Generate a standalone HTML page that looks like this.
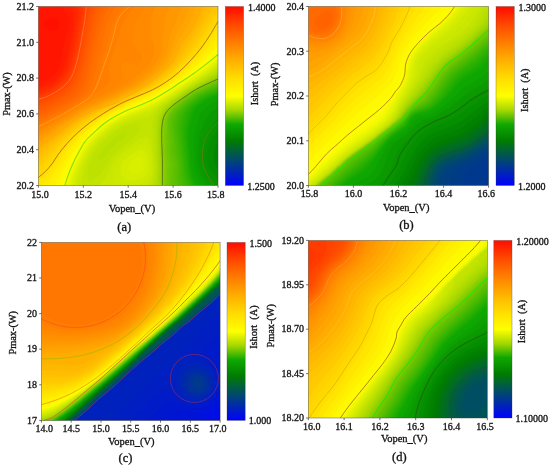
<!DOCTYPE html>
<html lang="en"><head><meta charset="utf-8"><title>Contour maps</title>
<style>html,body{margin:0;padding:0;background:#fff}svg{display:block}text{font-family:"Liberation Serif",serif;fill:#141414;stroke:#141414;stroke-width:0.32px}</style></head><body>
<svg width="550" height="468" viewBox="0 0 550 468">
<defs>
<filter id="cm" filterUnits="userSpaceOnUse" x="0" y="0" width="550" height="468" color-interpolation-filters="sRGB"><feGaussianBlur stdDeviation="1.1"/><feComponentTransfer><feFuncR type="table" tableValues="0 0 0 0 0 0 0 0 0 0 0 0 0 0 0 0 0 0 0 0 0 0 0 0 0 0 0 0 0 0 0 0 0 0 0 0 0 0 0 0 0 0 0 0 0.001 0.009 0.018 0.026 0.034 0.043 0.051 0.061 0.085 0.109 0.133 0.157 0.182 0.206 0.23 0.254 0.278 0.303 0.327 0.351 0.375 0.399 0.424 0.448 0.472 0.496 0.521 0.545 0.569 0.593 0.617 0.642 0.665 0.688 0.711 0.735 0.758 0.781 0.804 0.827 0.851 0.874 0.897 0.92 0.943 0.966 0.99 1 1 1 1 1 1 1 1 1 1 1 1 1 1 1 1 1 1 1 1 1 1 1 1 1 1 1 1 1 1 1 1 1 1 1 1 1 1"/><feFuncG type="table" tableValues="0 0.011 0.023 0.034 0.046 0.057 0.069 0.08 0.091 0.103 0.114 0.126 0.137 0.148 0.16 0.171 0.183 0.194 0.206 0.217 0.228 0.24 0.251 0.262 0.273 0.284 0.295 0.306 0.317 0.328 0.339 0.349 0.36 0.371 0.382 0.393 0.404 0.415 0.426 0.437 0.448 0.459 0.47 0.48 0.493 0.517 0.541 0.565 0.589 0.613 0.637 0.659 0.667 0.675 0.682 0.69 0.697 0.705 0.712 0.72 0.728 0.735 0.743 0.75 0.758 0.766 0.773 0.781 0.788 0.796 0.804 0.811 0.819 0.826 0.834 0.841 0.851 0.861 0.872 0.882 0.892 0.903 0.913 0.923 0.934 0.944 0.954 0.964 0.975 0.985 0.995 0.986 0.961 0.935 0.91 0.884 0.859 0.834 0.808 0.783 0.758 0.732 0.707 0.681 0.656 0.631 0.605 0.58 0.555 0.529 0.504 0.478 0.453 0.428 0.402 0.377 0.352 0.326 0.301 0.275 0.25 0.225 0.199 0.174 0.149 0.123 0.098 0.072 0.047"/><feFuncB type="table" tableValues="1 0.977 0.955 0.932 0.909 0.887 0.864 0.841 0.819 0.796 0.773 0.751 0.728 0.705 0.683 0.66 0.637 0.615 0.592 0.569 0.547 0.524 0.501 0.479 0.456 0.433 0.41 0.387 0.364 0.341 0.318 0.295 0.272 0.25 0.227 0.204 0.181 0.158 0.135 0.112 0.089 0.066 0.043 0.02 0 0 0 0 0 0 0 0 0 0 0 0 0 0 0 0 0 0 0 0 0 0 0 0 0 0 0 0 0 0 0 0 0 0 0 0 0 0 0 0 0 0 0 0 0 0 0 0 0 0 0 0 0 0 0 0 0 0 0 0 0 0 0 0 0 0 0 0 0 0 0 0 0 0 0 0 0 0 0 0 0 0 0 0 0"/><feFuncA type="linear" slope="9" intercept="0"/></feComponentTransfer></filter>
<linearGradient id="cb" x1="0" y1="0" x2="0" y2="1"><stop offset="0" stop-color="#ff0c00"/><stop offset="0.1" stop-color="#ff4800"/><stop offset="0.2" stop-color="#ff7d00"/><stop offset="0.3" stop-color="#ffaf00"/><stop offset="0.4" stop-color="#ffdc00"/><stop offset="0.5" stop-color="#ffff00"/><stop offset="0.58" stop-color="#a5d700"/><stop offset="0.66" stop-color="#0fa800"/><stop offset="0.75" stop-color="#007d00"/><stop offset="0.875" stop-color="#004080"/><stop offset="1" stop-color="#0000ff"/></linearGradient>
<clipPath id="cpa"><rect x="38.4" y="6.5" width="179.6" height="179"/></clipPath>
<clipPath id="cpb"><rect x="308.4" y="6.5" width="180.2" height="179"/></clipPath>
<clipPath id="cpc"><rect x="41.4" y="242.4" width="178.7" height="178"/></clipPath>
<clipPath id="cpd"><rect x="308.3" y="240.4" width="179" height="177.6"/></clipPath>
</defs>
<rect width="550" height="468" fill="#fff"/>
<g clip-path="url(#cpa)"><g filter="url(#cm)">
<rect x="34" y="2" width="188" height="188" fill="#5b5b5b"/>
<path fill="#5d5d5d" d="M34 2 222 2 222 141.3 218 141.3 214.4 149 213.4 156 214.4 162 218 168.8 222 168.8 222 190 34 190Z"/>
<path fill="#5f5f5f" d="M34 2 222 2 222 129.3 218 129.3 211.8 138 209.8 142 208.1 147 207 156 208.1 164 209.5 168 211.7 172 218 179.1 222 179.1 222 190 34 190Z"/>
<path fill="#616161" d="M34 2 222 2 222 117.3 218 117.3 208 131.3 205.7 136 203.9 141 202.6 147 202.1 153 202.4 161 204.2 169 208.1 177 214.6 185 215 186 215 190 34 190Z"/>
<path fill="#636363" d="M34 2 222 2 222 106.9 218 106.9 211 112.8 207 118 204 123.7 201 131.3 199.2 138 198.3 145 198.1 157 199 166 201.8 175 207.1 185 207.4 190 34 190Z"/>
<path fill="#656565" d="M34 2 222 2 222 100.3 218 100.3 212.7 103 206.7 107 202 111.8 199.5 116 197.6 121 195.5 129 194.3 136 193.9 146 194.9 165 196.9 174 201.3 185 201.5 190 34 190Z"/>
<path fill="#676767" d="M34 2 222 2 222 95.8 217 96 210.4 99 202 103.9 195.9 110 193 115.5 189.9 129 189.6 140 189.9 148 190.7 153 191 163.7 193 175 196.6 185 196.8 190 34 190Z"/>
<path fill="#696969" d="M34 2 222 2 222 94.4 218 94.4 209.8 98 202.5 102 197 106.5 194 110 191.8 114 190.3 119 188.5 128 188.1 140 190.2 166 191.5 174 195.1 185 195.2 190 34 190Z"/>
<path fill="#6b6b6b" d="M34 2 222 2 222 93.3 218 93.3 208 97.7 201 101.7 195.6 106 192.3 110 190.1 114 187.1 127 186.6 132 186.7 139 188.4 154 189.2 167 190.6 175 193.7 185 193.9 190 34 190Z"/>
<path fill="#6d6d6d" d="M34 2 222 2 222 92.3 218 92.3 208 96.6 201 100.4 194.9 105 191.3 109 188.9 113 187.6 117 185.7 126 185.2 131 185.3 138 187.2 154 188.2 168 189.6 176 192.4 185 192.5 190 34 190Z"/>
<path fill="#6f6f6f" d="M34 2 222 2 222 91.3 218 91.3 207 96 199.7 100 194.4 104 190.4 108 187.2 113 186.2 116 184.2 125 183.7 130 183.9 137 186.1 155 187.1 169 188.3 176 191 185 191.1 190 34 190Z"/>
<path fill="#717171" d="M34 2 222 2 222 90.4 218 90.4 207 95 199.5 99 193.9 103 188.9 108 186.1 112 184.4 116 182.6 124 182.1 131 183 143 184.9 156 186.4 173 189.4 185 189.6 190 34 190Z"/>
<path fill="#737373" d="M34 2 222 2 222 89.5 218 89.5 207.1 94 199.4 98 193.6 102 188.2 107 184.5 112 182.7 116 180.9 123 180.5 130 181.7 143 183.8 158 185.2 174 187.8 185 187.9 190 34 190Z"/>
<path fill="#757575" d="M34 2 222 2 222 88.6 218 88.6 207.3 93 199.4 97 193 101.3 187.7 106 183.5 111 180.9 116 179.3 122 178.8 127 179.1 132 182.8 161 183.9 175 186 185 186.1 190 34 190Z"/>
<path fill="#777777" d="M34 2 222 2 222 87.7 218 87.7 207.6 92 199.5 96 193 100.3 187.3 105 182.7 110 179.6 115 177.7 121 177.2 125 177.3 130 179.5 149 181.7 162 182.4 175 184.1 185 184.2 190 34 190Z"/>
<path fill="#797979" d="M34 2 222 2 222 86.9 218 86.9 208 91 199.7 95 192 100 184.9 106 180.5 111 177.6 116 176 121 175.7 129 177.1 139 178.1 150 180.5 163 180.8 176 182.1 185 182.2 190 34 190Z"/>
<path fill="#7b7b7b" d="M34 2 222 2 222 86.1 218 86.1 208 90.2 200 94 192.1 99 184.6 105 179.8 110 176.5 115 174.7 120 174 124 174.1 128 175.8 139 176.6 151 179.2 164 179.1 177 180.1 190 34 190Z"/>
<path fill="#7d7d7d" d="M34 2 222 2 222 85.3 218 85.3 200 93.2 192.2 98 184.5 104 178.5 110 175.1 115 173.2 120 172.6 127 174.5 140 174.8 150 177.9 165 177.3 178 178 190 34 190Z"/>
<path fill="#7f7f7f" d="M34 2 222 2 222 84.5 218 84.5 207.3 89 199 93 191 98 182.1 105 177.2 110 173.8 115 171.9 120 171.2 127 173.1 140 173.2 151 176.5 165 175.4 178 175.9 190 34 190Z"/>
<path fill="#808080" d="M34 2 222 2 222 83.7 218 83.7 206 88.9 197.6 93 190 97.9 181 105 175.9 110 172.6 115 170.7 120 169.9 127 171.7 140 171.5 151 172.2 155 175 165 173.5 178 174 190 34 190Z"/>
<path fill="#828282" d="M34 2 222 2 222 83 218 83 202 90 193.1 95 184.8 101 177.6 107 173.9 111 170.9 116 169.3 121 168.7 127 170.2 140 170 152 173.3 165 171.7 178 172.1 190 34 190Z"/>
<path fill="#848484" d="M34 2 222 2 222 82.2 218 82.2 202.7 89 193.6 94 185 100 177.6 106 172.8 111 170 115.7 168.2 121 167.6 127 168.8 140 168.5 152 171.3 165 170 178 170.4 190 34 190Z"/>
<path fill="#868686" d="M34 2 222 2 222 81.5 218 81.5 201.4 89 193 93.7 184 100 176.5 106 172 110.7 169.3 115 167.2 121 166.6 127 167.4 140 167.2 152 169.5 166 168.5 178 168.8 190 34 190Z"/>
<path fill="#888888" d="M34 2 222 2 222 80.8 218 80.8 202 88 193 93 183 100 175.5 106 171 110.7 168.4 115 166.2 121 165.6 127 166.2 139 166 152 167.8 166 167.1 178 167.3 190 34 190Z"/>
<path fill="#8a8a8a" d="M34 2 222 2 222 80 218 80 201 87.9 192 93 175.6 105 170.6 110 168 114 165.6 120 164.7 127 165.1 139 164.8 151 166.4 166 165.8 179 166 190 34 190Z"/>
<path fill="#8c8c8c" d="M34 2 222 2 222 79.3 218 79.3 201 87.3 192.6 92 182.4 99 174.7 105 169.7 110 167.1 114 164.7 120 163.8 127 163.9 151 165.2 167 164.8 190 34 190Z"/>
<path fill="#8e8e8e" d="M34 2 222 2 222 78.6 218 78.6 200.5 87 191.7 92 173.8 105 168.8 110 166.3 114 163.9 120 163 128 163 150 164.2 168 163.7 190 34 190Z"/>
<path fill="#909090" d="M34 2 222 2 222 77.9 218 77.9 200 86.7 191 91.8 172.9 105 168 109.9 165.4 114 163.1 120 162.2 128 162.1 149 163.2 168 162.7 190 34 190Z"/>
<path fill="#929292" d="M34 2 222 2 222 77.2 218 77.2 200 86.1 191.4 91 179.8 99 172 105 167.1 110 164.7 114 162.4 120 161.4 128 161.4 149 162.4 169 161.8 190 34 190Z"/>
<path fill="#949494" d="M34 2 222 2 222 76.5 218 76.5 199.1 86 191 90.7 179 98.9 171.2 105 167 109.2 163.9 114 161.7 120 160.7 128 160.7 149 161.6 169 161 190 34 190Z"/>
<path fill="#969696" d="M34 2 222 2 222 75.8 218 75.8 192 89.4 172 103.6 166.3 109 163.6 113 161.4 118 160.5 122 160 128 160 148 160.8 169 160.2 190 34 190Z"/>
<path fill="#989898" d="M34 2 222 2 222 74.7 218 74.7 213 77.7 198 85.3 190 90 170.4 104 165.2 109 162 114 159.9 120 159 128 159 148 159.8 168 159 190 34 190Z"/>
<path fill="#9a9a9a" d="M34 2 222 2 222 73.5 218 73.5 214 76.1 197 85 188.7 90 175.6 99 169.1 104 164 109 160.6 114 158.8 119 157.8 127 157.9 146 158.7 168 157.5 190 34 190Z"/>
<path fill="#9c9c9c" d="M34 2 222 2 222 72.1 218 72.1 212.3 76 196 84.7 187.4 90 174.3 99 166.6 105 162.6 109 159.2 114 157.3 119 156.4 126 157.5 168 157.1 178 155.9 186 155.9 190 34 190Z"/>
<path fill="#9e9e9e" d="M34 2 222 2 222 70.7 218 70.7 212.1 75 195 84.4 186 90.1 173 99 165.2 105 161.1 109 157.4 114 155.3 119 154.5 125 156.2 167 155.6 178 153.8 186 153.8 190 34 190ZM126 132.5 125 132.2 123 132.6 118.3 135 113.2 139 108 144 101 152.4 98.9 157 99 159.8 100 160 102 158.7 111 148.6 123.6 138 126 135 126.4 133Z"/>
<path fill="#a0a0a0" d="M34 2 222 2 222 69.3 218 69.3 211.7 74 190 86.6 170.3 100 163.8 105 158.5 110 154.4 115 151.8 120 151.1 123 151 126 154 150.4 154.8 166 154 177.5 153 181.6 150.9 186 150.9 190 34 190ZM138.7 125 136 123.9 132 124 127 125.4 121.5 128 116.6 131 111.4 135 100 146 96.8 150 94 154.6 89 166.7 87.5 175 87.8 178 89 179.8 90 180.2 92 179.8 99 174.5 103 170 110.5 158 114.5 153 119 148.8 130.3 140 135.6 135 137.9 132 139.4 129 139.6 127Z"/>
<path fill="#a2a2a2" d="M34 190 34 2 222 2 222 67.8 218 67.8 210 73.8 187 87.7 164.8 103 151 114.6 148 116.7 144 118.1 133 120.4 126 123 116.9 128 109 134 101.4 141 96 146.9 93 151.1 89 158.6 85 168 82.5 176 81.7 181 81.7 190ZM148 137.6 150 141.3 151.8 149 153 158.8 153.2 167 152.7 173 151.7 178 150 181.9 146.4 186 146.4 190 99.2 190 99.4 185 106.1 176 113.4 161 117 155.8 124 149.7 140 138.6 145 136.4 147 136.7Z"/>
<path fill="#a4a4a4" d="M34 190 34 2 222 2 222 66.3 218 66.3 210 72.6 186 87.5 151 111.6 145 114.4 133 118.1 124 121.9 115.3 127 107.4 133 100 139.8 95 145.1 92 149.1 88 156.1 83 166.8 79.6 176 78.2 183 78.1 190ZM146 144.7 148 146.9 149.3 150 150.5 155 151.1 161 151.1 167 150.6 172 149.6 176 148 179 144.7 182 137.1 185 135.8 186 135.8 190 115.4 190 115.4 186 113.3 182 113.1 178 115.4 167 118.2 160 120 157.7 124 154.3 136 146.3 142 144 144 144Z"/>
<path fill="#a6a6a6" d="M34 190 34 2 222 2 222 64.8 218 64.8 207.5 73 153 108.4 147 111.4 131.3 117 124.5 120 114.1 126 106.3 132 98.7 139 93.1 145 90 149.3 86.2 156 80.9 167 77.2 177 75.7 184 75.5 190ZM144 150.5 145.7 152 147 154.3 148.5 161 148.2 169 147.2 173 146 175.2 144 177.3 142 178.5 135 180.4 129 180.8 126 180.1 124 179.1 121.4 176 120.4 171 121 165 122.9 161 128 156.3 135 151.8 140 150 142 149.9Z"/>
<path fill="#a8a8a8" d="M34 190 34 2 222 2 222 63.4 218 63.4 205.6 73 157 104.7 148 109.3 130.2 116 123.7 119 113.4 125 105.5 131 97.8 138 92.1 144 89 148.3 85.1 155 80 165.3 75.7 176 73.7 184 73.5 190ZM141 157.1 143 158.7 144.3 162 144.4 166 143 170.2 141 172.3 138 173.6 134 173.8 131 172.7 129 170.7 128.1 168 128.5 165 129.5 163 132 160.2 135.3 158 138 157Z"/>
<path fill="#aaaaaa" d="M34 190 34 2 222 2 222 61.9 218 61.9 209.4 69 202.4 74 159 102.3 149 107.4 132 114 123.3 118 112.8 124 104.9 130 97.2 137 91.4 143 88 147.5 84.2 154 78 166.5 74 176.7 71.9 185 71.8 190Z"/>
<path fill="#acacac" d="M34 190 34 2 222 2 222 60.5 218 60.5 208.9 68 200.8 74 162 99.5 150 105.8 129.5 114 121.1 118 111 124 103.3 130 95.6 137 90 143 87 147 83 153.7 77 165.7 73 175.6 70.4 185 70.2 190Z"/>
<path fill="#aeaeae" d="M34 190 34 2 222 2 222 59.1 218 59.1 207.3 68 197.7 75 162 98.5 151 104.2 129.6 113 119.3 118 109.4 124 101.9 130 95 136.2 89.5 142 85.8 147 81.6 154 76.1 165 72 175 68.9 185 68.8 190Z"/>
<path fill="#b0b0b0" d="M34 190 34 2 222 2 222 57.7 218 57.7 206.9 67 197.6 74 164 96.4 151 103.3 129.8 112 119.5 117 109.4 123 101.7 129 95 135 89 141.2 85.3 146 81 153 75 164.8 70.8 175 67.5 185 67.4 190Z"/>
<path fill="#b2b2b2" d="M34 190 34 2 222 2 222 56.3 218 56.3 206.6 66 196.2 74 179 85.9 164 95.6 151 102.4 130.3 111 118 117 108.1 123 100.5 129 93.8 135 88 141 84.2 146 79.9 153 74.2 164 69.6 175 66.2 185 66 190Z"/>
<path fill="#b4b4b4" d="M34 190 34 2 222 2 222 54.9 218 54.9 206.4 65 196.1 73 180 84.4 165 94.1 152 101.1 127 111.6 117 116.6 106 123.5 96 131.8 86.8 141 81.7 148 77.6 155 71.7 167 64.7 185 64.5 190Z"/>
<path fill="#b6b6b6" d="M34 190 34 2 222 2 222 51.6 218 51.6 206.6 62 194.4 72 182 81.1 166 91.7 154 98.4 127.4 110 115.4 116 105.6 122 95.6 130 84.4 141 76 153.5 70 165 61.1 185 60.8 190Z"/>
<path fill="#b8b8b8" d="M34 190 34 2 222 2 222 46.5 218 46.5 207.7 57 194.1 69 182 78.5 168 88.1 153 96.7 127.5 108 113.5 115 103.6 121 93.4 129 82.9 139 74.1 151 68.9 160 60 177.6 55.4 185 55 190Z"/>
<path fill="#bababa" d="M34 190 34 2 222 2 222 40.9 218 40.9 207.5 53 195.1 65 182 76 169 85.3 153 94.7 128 106 112 114 103.5 119 93.9 126 81.7 137 72.8 148 67 157 57 174.7 53 180.4 49 185 48.6 186 48.6 190Z"/>
<path fill="#bcbcbc" d="M34 190 34 2 222 2 222 34.9 218 34.9 207.1 49 195.8 61 182.7 73 170 82.5 161 88.4 153 92.8 126.8 105 107.1 115 99.1 120 89.7 127 79.7 136 70.3 147 65.4 154 53 173.6 48 179.4 42 185 41.5 186 41.5 190Z"/>
<path fill="#bebebe" d="M34 182 34 2 222 2 222 28.5 218 28.5 204.1 48 196.2 57 187.4 66 174.7 77 166.4 83 158.5 88 148 93.6 107.8 113 99.2 118 90.5 124 79.8 133 70.3 143 63.2 152 52.4 168 47 174.4 39 181.5 38 182Z"/>
<path fill="#c0c0c0" d="M34 176.6 34 2 222 2 222 22.3 218 22.3 201.2 47 190.2 60 180.3 70 169 79.2 155 88.3 145 93.6 105 113 98 117 89.1 123 78 132 68 142 59.6 152 50.2 165 44.8 171 39 176.1 38 176.6Z"/>
<path fill="#c2c2c2" d="M34 172.2 34 2 222 2 222 17.8 218 17.8 198.2 47 186.7 61 176.9 71 165.6 80 153 88.1 141 94.4 103 112.9 88.1 122 76.7 131 66.3 141 58.2 150 48 162.8 42 169.1 38 172.2Z"/>
<path fill="#c4c4c4" d="M34 167.8 34 2 222 2 222 13.4 218 13.4 215 16.8 211 22.5 201.6 38 196 46 184.2 61 174.6 71 163.3 80 150.9 88 139.5 94 102.4 112 87.2 121 76.6 129 65.6 139 56.8 148 45 161.5 39.4 167 38 167.8Z"/>
<path fill="#c6c6c6" d="M34 163.4 34 2 222 2 222 8.6 218 8.6 214 13.3 209.3 20 198.5 38 187.1 54 179.2 64 171.2 72 160.9 80 148.6 88 117 104.1 100 112 86.2 120 75.3 128 63.8 138 39 162.9 38 163.4Z"/>
<path fill="#c8c8c8" d="M34 159 34 2 215.2 2 215.2 6 214.8 7 208.3 16 196 37 179.2 61 174.1 67 168.8 72 157.2 81 144.5 89 117 103 98 111.8 85.2 119 75.3 126 64.3 135 53 145 39 158.5 38 159Z"/>
<path fill="#cacaca" d="M34 154.8 34 2 210.5 2 210.1 7 206 13.4 195.2 33 186.3 46 176.7 61 172.6 66 166.3 72 153.4 82 142.2 89 116 102.4 96 111.5 84.1 118 75.3 124 51.7 143 39 154.3 38 154.8Z"/>
<path fill="#cccccc" d="M34 150.8 34 2 205.6 2 205.3 7 193.5 30 184 43.8 174.1 61 169 67 162.6 73 151 82 139.8 89 116 101.3 97 109.6 84 116.4 68.6 127 39 150.3 38 150.8Z"/>
<path fill="#cecece" d="M34 147.2 34 2 200.6 2 200.3 7 195 19.7 191 27.5 181 42.3 174.9 55 171.3 61 166.2 67 159.9 73 148 82.4 137 89.1 115 100.5 96 108.7 83.5 115 69.9 124 38 147.2Z"/>
<path fill="#d0d0d0" d="M34 144.1 34 2 195.7 2 195.5 7 190.8 19 187 26.5 178.4 40 171 57 165.3 65 156.1 74 147.4 81 138.1 87 115.4 99 96 107.3 84 113.2 71.6 121 38 144.1Z"/>
<path fill="#d2d2d2" d="M34 141.2 34 2 189.9 2 189.7 7 186 16.9 183 23.4 175 38 167.8 57 162.2 65 153.2 74 144.5 81 135.1 87 114.5 98 96 105.8 84 111.7 73.5 118 39 140.8 38 141.2Z"/>
<path fill="#d4d4d4" d="M34 138.4 34 2 182.3 2 182.1 7 171.1 34 165 55 163 59 159.6 64 151.1 73 141.2 81 129.8 88 115.2 96 95 104.6 82 111.2 39 138Z"/>
<path fill="#d6d6d6" d="M34 135.7 34 2 170.5 2 170.5 6 167.6 13 165.7 21 163.8 33 162.2 48 161 53.3 159.2 58 156.8 62 149.2 71 143.7 76 137 81 118.9 92 111 96 96 102.4 83 108.9 39 135.4Z"/>
<path fill="#d8d8d8" d="M34 133.1 34 2 155.7 2 155.7 6 152.5 16 151.2 27 151.6 34 154.7 47 154.7 53 153.7 57 151.9 61 146 68.9 141.7 73 135.3 78 124 86 116 91 97 99.7 86 105.5 39 132.8Z"/>
<path fill="#dadada" d="M144.7 2 144.4 7 135.5 24 133.9 29 133 34 133 39 134.1 44 136 47.7 140.2 53 141.5 56 141.4 59 139.9 62 138 63.8 136 64.6 134 64.5 128 61.9 125 62.5 123 64 121.8 66 121.3 69 121.7 71 124 76 123.6 79 120.8 83 114.5 88 96 97.6 45 127.1 39 130.2 34 130.5 34 2Z"/>
<path fill="#dcdcdc" d="M134.3 2 133.9 7 124.7 19 122.5 23 120.6 28 116.3 44 111 58.6 109.5 64 108.9 70 110.2 80 109.6 82 108.2 84 104.9 87 90.4 98 74.5 108 57 118.1 40 127 38 127.8 34 127.8 34 2Z"/>
<path fill="#dedede" d="M124.2 2 124.2 6 123.8 7 117 15.9 113 24.4 102 62.6 97.6 81 95.4 87 93 91 89.5 95 84.8 99 67 110.2 54 117.3 39 124.8 34 125.1 34 2Z"/>
<path fill="#e0e0e0" d="M116 2 115.6 7 110.1 16 106.6 25 92.4 81 90.4 87 88.3 91 85.1 95 80.5 99 66.5 108 55 114.3 39 122.1 34 122.3 34 2Z"/>
<path fill="#e2e2e2" d="M109.6 2 109.3 7 104.7 16 101.1 27 88.3 81 86.1 87 83.9 91 81 94.7 77.4 98 65 106.1 54 112 39 119.1 34 119.4 34 2Z"/>
<path fill="#e4e4e4" d="M104.4 2 104.2 7 100.6 15 97.6 25 86.4 75 83.9 83 81 89 78.1 93 75 96.1 69.9 100 63.5 104 54 109 39 116 34 116.3 34 2Z"/>
<path fill="#e6e6e6" d="M100 2 99.8 7 97.1 14 95 21.8 85.1 68 81.5 80 78.3 87 75.4 91 72 94.6 67.7 98 62 101.6 54 105.8 39 112.7 34 113 34 2Z"/>
<path fill="#e8e8e8" d="M96.2 2 96 7 92.6 19 83.7 63 80.3 75 76.4 84 73.8 88 70.2 92 66 95.5 61 98.9 53 103.1 39 109.4 34 109.6 34 2Z"/>
<path fill="#eaeaea" d="M92.9 2 92.7 7 90.5 16 81.8 61 78.3 73 74.3 82 71.6 86 68 90 64 93.4 59 96.8 52 100.5 39 106 34 106.3 34 2Z"/>
<path fill="#ececec" d="M89.9 2 89.8 7 80.5 57 77.3 69 73.2 79 70.7 83 67 87.2 63 90.8 58 94.4 50 98.6 39 102.9 34 103.1 34 2Z"/>
<path fill="#eeeeee" d="M87.3 2 87.3 7 85.3 20 79.1 54 75.6 68 71.9 77 69 81.5 65 86 57 92.3 51 95.7 45 98.1 38 100.3 34 100.3 34 2Z"/>
<path fill="#f0f0f0" d="M85.3 2 85.2 7 83.6 20 77.9 52 74.4 66 70.4 76 67.9 80 64 84.4 56 90.7 50 94.1 44 96.5 38 98.1 34 98.1 34 2Z"/>
<path fill="#f2f2f2" d="M83.3 2 83.1 9 81.9 20 76.6 50 73 65 69 75 66.5 79 62.9 83 59 86.5 54 89.9 49 92.6 44 94.6 39 95.9 34 96.1 34 2Z"/>
<path fill="#f4f4f4" d="M81.3 2 81.2 10 80.4 19 76 44.5 72 62.6 67.6 74 65.1 78 61.5 82 57 85.8 53 88.5 48 91.2 43 93.1 39 94 34 94.1 34 2Z"/>
<path fill="#f6f6f6" d="M78.8 2 78.7 17 76 34.6 70.8 60 69 66.1 66.1 73 63.5 77 60 80.9 56.4 84 51.9 87 47 89.6 43 91.1 39 91.8 34 91.9 34 2Z"/>
<path fill="#f8f8f8" d="M75.3 2 75.3 6 76.4 14 75.5 25 69.1 58 67.2 65 65 70.5 63 74.1 59.9 78 55.5 82 51.1 85 43 88.6 39 89.3 34 89.3 34 2Z"/>
<path fill="#fafafa" d="M69.6 2 69.6 6 72 11 73 14.8 73 23 71.1 35 66.3 58 63.3 68 61.2 72 59 75.1 55.1 79 51 82 47 84.1 43 85.5 40 86 34 86.1 34 2Z"/>
<path fill="#fcfcfc" d="M61.6 2 61.6 6 61.9 7 66 12.4 68 16.1 68.7 19 69 23 68 30.9 63.4 47 61.9 59 60.1 66 58.2 70 56 73.1 53 76.1 49 78.9 43 81.2 34 81.4 34 2Z"/>
<path fill="#fefefe" d="M43.7 22 46 20 49 18.7 52 18.3 55 18.9 57 20 59 22.3 59.7 25 59.1 28 58 29.5 56 30.6 54 30.8 50.4 30 46.8 28 44.5 26 43.3 24Z"/>
</g>
<path d="M86.3 6.4C86.0 8.9 85.4 16.0 84.6 21.4C83.8 26.8 82.6 33.2 81.6 38.5C80.6 43.8 79.8 48.8 78.8 53.4C77.8 58.0 77.0 61.9 75.6 66.2C74.2 70.5 72.8 75.2 70.3 79.0C67.8 82.8 64.3 85.8 60.6 88.7C56.9 91.6 51.5 94.4 47.8 96.2C44.1 98.0 39.8 98.9 38.2 99.4" fill="none" stroke="#ff8c5a" stroke-width="0.8" opacity="0.7"/>
<path d="M130.0 6.4C128.8 7.5 124.7 10.3 122.6 12.8C120.5 15.3 118.7 17.8 117.3 21.4C115.9 25.0 115.2 29.6 114.0 34.2C112.8 38.8 111.4 44.1 109.8 49.1C108.2 54.1 106.0 59.5 104.4 64.1C102.8 68.7 101.8 72.6 100.2 76.9C98.6 81.2 96.4 86.5 94.8 89.7C93.2 93.0 92.3 94.4 90.5 96.4C88.7 98.4 86.9 99.6 84.1 101.5C81.3 103.4 77.4 105.7 73.5 108.0C69.6 110.3 64.9 113.2 60.6 115.5C56.3 117.8 51.5 120.1 47.8 122.0C44.1 123.9 39.8 126.0 38.2 126.8" fill="none" stroke="#ffb428" stroke-width="0.8" opacity="0.7"/>
<path d="M200.9 6.4C200.3 8.2 199.2 13.2 197.6 17.1C196.0 21.0 194.0 25.6 191.2 29.9C188.4 34.2 182.9 39.1 180.6 42.7C178.3 46.3 178.8 48.1 177.4 51.3C176.0 54.5 174.7 58.5 172.0 62.0C169.3 65.5 165.2 69.0 161.3 72.6C157.4 76.1 152.8 80.1 148.5 83.3C144.2 86.5 139.6 89.6 135.7 91.9C131.8 94.2 128.2 95.4 125.0 97.2C121.8 99.0 120.5 101.0 116.2 102.8C111.9 104.6 104.4 106.2 99.1 108.2C93.8 110.2 88.7 112.1 84.1 114.6C79.5 117.1 75.6 120.1 71.3 123.1C67.0 126.1 62.4 129.8 58.5 132.7C54.6 135.5 51.2 137.7 47.8 140.2C44.4 142.7 39.8 146.4 38.2 147.7" fill="none" stroke="#ff9c1a" stroke-width="0.8" opacity="0.7"/>
<path d="M218.0 21.4C216.8 23.5 213.2 29.9 210.5 34.2C207.8 38.5 205.1 42.7 201.9 47.0C198.7 51.3 195.1 55.5 191.2 59.8C187.3 64.1 182.7 68.8 178.4 72.6C174.1 76.3 169.9 79.4 165.6 82.3C161.3 85.2 157.4 87.4 152.8 89.7C148.2 92.0 142.4 94.2 137.8 96.2C133.2 98.2 128.9 99.7 125.0 101.5C121.0 103.3 117.7 105.2 114.1 107.2C110.5 109.2 107.3 111.0 103.4 113.5C99.5 116.0 94.9 118.9 90.6 122.1C86.3 125.3 81.6 129.1 77.7 132.7C73.8 136.2 70.3 139.8 67.1 143.4C63.9 147.0 61.0 150.7 58.5 154.1C56.0 157.5 54.2 160.8 52.1 163.7C50.0 166.5 48.0 168.9 45.7 171.2C43.4 173.5 39.5 176.5 38.2 177.6" fill="none" stroke="#a8501a" stroke-width="0.85" opacity="0.9"/>
<path d="M218.0 54.5C216.0 56.1 210.3 60.9 206.2 64.1C202.1 67.3 197.7 70.7 193.4 73.7C189.1 76.7 184.9 79.5 180.6 82.3C176.3 85.1 171.6 88.3 167.7 90.8C163.8 93.3 160.6 95.3 157.0 97.3C153.4 99.3 150.0 101.0 146.4 102.6C142.8 104.2 139.3 105.6 135.7 107.0C132.1 108.4 127.9 109.9 125.0 111.2C122.1 112.5 121.5 112.7 118.3 114.6C115.0 116.5 109.4 119.7 105.5 122.5C101.6 125.3 98.2 128.6 94.8 131.7C91.4 134.8 88.0 137.6 85.2 141.3C82.4 145.0 79.8 150.2 77.7 154.1C75.6 158.0 74.0 161.2 72.4 164.8C70.8 168.4 69.3 172.1 68.1 175.5C66.8 178.9 65.4 183.8 64.9 185.5" fill="none" stroke="#7fe000" stroke-width="1.1" opacity="1"/>
<path d="M218.0 79.0C216.0 79.9 209.9 82.6 206.2 84.4C202.4 86.2 198.7 87.9 195.5 89.7C192.3 91.5 190.2 93.2 187.0 95.4C183.8 97.6 179.5 100.3 176.3 102.8C173.1 105.3 169.8 107.8 167.7 110.3C165.6 112.8 164.5 114.8 163.5 117.8C162.5 120.8 162.1 124.2 161.8 128.5C161.5 132.8 161.7 138.4 161.8 143.4C161.9 148.4 162.3 153.4 162.4 158.4C162.5 163.4 162.4 168.8 162.4 173.3C162.4 177.8 162.4 183.5 162.4 185.5" fill="none" stroke="#4d5a1e" stroke-width="0.85" opacity="0.9"/>
<path d="M218.0 122.0C216.9 123.1 213.5 126.0 211.5 128.5C209.5 131.0 207.6 133.8 206.2 137.0C204.8 140.2 203.6 144.1 203.0 147.7C202.4 151.3 202.2 154.8 202.4 158.4C202.7 162.0 203.3 165.6 204.5 169.0C205.7 172.4 207.7 175.9 209.4 178.7C211.1 181.4 213.8 184.4 214.7 185.5" fill="none" stroke="#6d7a14" stroke-width="0.85" opacity="0.9"/>
</g>
<rect x="38.4" y="6.5" width="179.6" height="179" fill="none" stroke="#3a3a2a" stroke-width="0.6" opacity="0.7"/>
<rect x="225.3" y="6.5" width="18.3" height="179" fill="url(#cb)" stroke="#3a3a2a" stroke-width="0.5" stroke-opacity="0.6"/>
<path d="M38.4 185.5v2.2" stroke="#333" stroke-width="0.7"/>
<text x="39.9" y="197.5" font-size="10" text-anchor="middle">15.0</text>
<path d="M83.3 185.5v2.2" stroke="#333" stroke-width="0.7"/>
<text x="83.3" y="197.5" font-size="10" text-anchor="middle">15.2</text>
<path d="M128.2 185.5v2.2" stroke="#333" stroke-width="0.7"/>
<text x="128.2" y="197.5" font-size="10" text-anchor="middle">15.4</text>
<path d="M173.1 185.5v2.2" stroke="#333" stroke-width="0.7"/>
<text x="173.1" y="197.5" font-size="10" text-anchor="middle">15.6</text>
<path d="M218 185.5v2.2" stroke="#333" stroke-width="0.7"/>
<text x="215.7" y="197.5" font-size="10" text-anchor="middle">15.8</text>
<path d="M38.4 6.5h-2.2" stroke="#333" stroke-width="0.7"/>
<text x="34.1" y="9.7" font-size="10" text-anchor="end">21.2</text>
<path d="M38.4 42.3h-2.2" stroke="#333" stroke-width="0.7"/>
<text x="34.1" y="45.5" font-size="10" text-anchor="end">21.0</text>
<path d="M38.4 78.1h-2.2" stroke="#333" stroke-width="0.7"/>
<text x="34.1" y="81.3" font-size="10" text-anchor="end">20.8</text>
<path d="M38.4 113.9h-2.2" stroke="#333" stroke-width="0.7"/>
<text x="34.1" y="117.1" font-size="10" text-anchor="end">20.6</text>
<path d="M38.4 149.7h-2.2" stroke="#333" stroke-width="0.7"/>
<text x="34.1" y="152.9" font-size="10" text-anchor="end">20.4</text>
<path d="M38.4 185.5h-2.2" stroke="#333" stroke-width="0.7"/>
<text x="34.1" y="188.7" font-size="10" text-anchor="end">20.2</text>
<text x="247.9" y="10.8" font-size="10">1.4000</text>
<text x="247.2" y="189.5" font-size="10">1.2500</text>
<text x="131.9" y="212" font-size="10.5" text-anchor="middle">Vopen_(V)</text>
<text x="124.2" y="230.5" font-size="12.5" text-anchor="middle">(a)</text>
<text transform="translate(9.9 94) rotate(-90)" font-size="10.3" text-anchor="middle">Pmax-(W)</text>
<text transform="translate(258.1 83.5) rotate(-90)" font-size="10.3" text-anchor="middle" word-spacing="2.6">Ishort (A)</text>
<g clip-path="url(#cpb)"><g filter="url(#cm)">
<rect x="304" y="2" width="189" height="188" fill="#252525"/>
<path fill="#272727" d="M304 2 493 2 493 164.7 488 165.1 484.4 168 483.2 170 482.8 172 483.1 174 485.6 182 484.9 186 484.9 190 304 190Z"/>
<path fill="#292929" d="M304 2 493 2 493 157.5 488 157.8 480 160.8 476.8 163 464.9 173 463.5 175 463.3 177 465.5 184 465.5 190 304 190Z"/>
<path fill="#2b2b2b" d="M304 2 493 2 493 153.4 488 153.6 480 156.7 469 163.9 458.4 169 453.8 172 452 174 450.6 177 449.4 185 449.3 190 304 190Z"/>
<path fill="#2d2d2d" d="M304 2 493 2 493 150.6 488 150.8 480 154 468 161.5 455 167 449.8 170 446.9 173 444.9 177 443.1 185 443 190 304 190Z"/>
<path fill="#2f2f2f" d="M304 2 493 2 493 148.3 488 148.5 479 152.5 468 159.3 453 165.3 447 168.8 443.9 172 441.4 177 439.7 184 439.5 190 304 190Z"/>
<path fill="#313131" d="M304 2 493 2 493 146.3 488 146.6 476.7 152 467 158 451.4 164 445 167.8 441.2 172 439 176.9 437.1 185 437 190 304 190Z"/>
<path fill="#333333" d="M304 2 493 2 493 144.5 488 144.8 476 151.1 467 156.5 451 162.5 444 166.4 440.4 170 437.8 175 435.2 184 435 190 304 190Z"/>
<path fill="#353535" d="M304 2 493 2 493 142.9 488 143.2 467 155.2 451 161 443 165.3 439 169.5 436.2 175 433.4 185 433.3 190 304 190Z"/>
<path fill="#373737" d="M304 2 493 2 493 141.3 488 141.7 468 153.5 463 155.7 450 160.1 442 164.5 438 168.6 435.2 174 431.9 185 431.8 190 304 190Z"/>
<path fill="#393939" d="M304 2 493 2 493 139.9 488 140.3 468 152.3 463 154.5 449 159.3 441 163.8 437 168 434 173.9 430.5 185 430.4 190 304 190Z"/>
<path fill="#3b3b3b" d="M304 2 493 2 493 138.6 488 139 468 151.3 462 153.8 449 158.2 444 160.6 440.4 163 436 167.6 433.2 173 429.3 185 429.2 190 304 190Z"/>
<path fill="#3d3d3d" d="M304 2 493 2 493 137.4 488 137.7 477 145 468 150.2 462 152.8 448 157.6 440 162 435.2 167 432.6 172 428.2 185 428.1 190 304 190Z"/>
<path fill="#3f3f3f" d="M304 2 493 2 493 136.2 488 136.5 476.9 144 468 149.2 462 151.8 447 157 442 159.5 439 161.6 434.8 166 431.5 172 427.1 185 427 190 304 190Z"/>
<path fill="#414141" d="M304 2 493 2 493 134.9 488 135.3 476.8 143 469 147.7 462 150.8 447 155.9 442 158.4 438.3 161 434 165.5 430.9 171 426 185 425.9 190 304 190Z"/>
<path fill="#434343" d="M304 2 493 2 493 133.7 489 133.7 488 134.1 476 142.4 469 146.7 461.5 150 446 155.3 438 160 433.2 165 430.3 170 424.9 185 424.7 190 304 190Z"/>
<path fill="#454545" d="M304 2 493 2 493 132.3 489 132.3 488 132.7 475 141.9 468.2 146 461 149.2 446 154.3 441 156.8 437 159.5 432.7 164 429.3 170 423.7 185 423.5 190 304 190Z"/>
<path fill="#474747" d="M304 2 493 2 493 130.9 489 130.9 488 131.3 475 140.7 468 145 461.2 148 445 153.6 440 156.2 436.1 159 432 163.3 428.6 169 422.5 185 422.3 190 304 190Z"/>
<path fill="#494949" d="M304 2 493 2 493 129.3 489 129.3 488 129.8 475.6 139 468 143.8 460.9 147 445 152.4 440 154.9 435.6 158 430.9 163 427.5 169 421.1 185 420.9 190 304 190Z"/>
<path fill="#4b4b4b" d="M304 2 493 2 493 127.7 489 127.7 488 128.1 475.1 138 467 143.1 460.3 146 444 151.6 439 154.2 435 157 430.3 162 426.7 168 419.7 185 419.4 190 304 190Z"/>
<path fill="#4d4d4d" d="M304 2 493 2 493 125.9 489 125.9 488 126.4 475.8 136 466.4 142 460 144.8 443 150.7 438 153.4 434 156.3 429.6 161 425.9 167 418.1 185 417.9 190 304 190Z"/>
<path fill="#4f4f4f" d="M304 2 493 2 493 124 489 124 488 124.5 475 135 466 140.8 459 143.8 443 149.3 437.8 152 433 155.5 428 161 424.6 167 416.5 185 416.2 190 304 190Z"/>
<path fill="#515151" d="M304 2 493 2 493 122 489 122 488 122.5 475.4 133 466 139.2 460 142 442 148.2 437 150.9 432.7 154 427.9 159 423.6 166 418 178.9 414.8 185 414.5 190 304 190Z"/>
<path fill="#535353" d="M304 2 493 2 493 119.8 489 119.8 488 120.4 474.3 132 465.2 138 458.4 141 441 147.1 436 149.7 431.6 153 426.9 158 422.6 165 416.8 178 413 185 412.7 190 304 190Z"/>
<path fill="#555555" d="M304 2 493 2 493 117.6 489 117.6 488 118.1 474.3 130 465 136.3 458 139.4 441 145.3 436 147.9 431 151.5 425.8 157 421.5 164 415 178 411.1 185 410.7 190 304 190Z"/>
<path fill="#575757" d="M304 2 493 2 493 115.3 489 115.3 488 115.8 473 128.8 464 134.8 457 138 440 143.9 435 146.5 430 150.2 425 155.5 420.8 162 413.7 177 409 185 408.7 190 304 190Z"/>
<path fill="#595959" d="M304 2 493 2 493 112.5 489 112.5 488 113 472 126.9 463 132.9 456.1 136 443 140.3 438 142.4 433 145.2 429 148.3 423.7 154 419.2 161 412 176.1 406.2 186 406.2 190 304 190Z"/>
<path fill="#5b5b5b" d="M304 2 493 2 493 106.8 489 106.8 488 107.2 470 122.3 462 127.8 455.2 131 437 137.6 431 140.9 426 144.8 421 150.4 416.7 157 407.8 175 400.9 186 400.9 190 304 190Z"/>
<path fill="#5d5d5d" d="M304 2 493 2 493 100.7 489 100.7 488 101.2 467 117.5 460 122.1 453 125.5 434 132.9 428.5 136 424 139.5 417.2 147 413.3 153 403.5 173 399.8 179 395.3 185 394.9 186 394.9 190 304 190Z"/>
<path fill="#5f5f5f" d="M304 190 304 2 493 2 493 94.5 489 94.5 458 115.9 451 119.6 429.2 129 424.3 132 420.5 135 414 142 407.7 151 398 171.5 393.2 179 388.4 185 387.9 186 387.9 190Z"/>
<path fill="#616161" d="M304 190 304 2 493 2 493 87.6 489 87.6 470.8 99 458.8 108 452 112.5 441 118.3 424 125.8 417 130.9 400.7 147 398.4 150 396.4 154 393.6 164 391.5 169 385.6 179 379 186 379 190Z"/>
<path fill="#636363" d="M304 190 304 2 493 2 493 79.6 489 79.6 482 84.9 468 93.3 452.3 106 441.7 113 433 117.6 422 121.4 417 124.1 407 134.8 395 143 392.1 146 390 149.3 384.4 166 380.5 174 378 177.4 375 180.3 365.3 186 365.5 190Z"/>
<path fill="#656565" d="M304 190 304 2 493 2 493 70.5 489 70.5 481 77.6 466 86.7 461 90.8 449.3 102 437 111.3 430 115.1 419.2 118 415 120.2 407 130.2 403 133.3 393.9 139 388.6 144 384.8 150 377 166.2 371.8 174 367 177.8 352.5 185 351.7 186 352.1 190Z"/>
<path fill="#676767" d="M304 190 304 2 493 2 493 60.5 489 60.5 488.2 61 483.4 67 480 70.6 463.9 80 458 85.6 447.9 97 440 104.6 435 108.7 428 112.7 417.7 115 413.9 117 411 119.9 408.8 124 405 128.5 391 138 387 142 381.9 149 375.7 159 367 169.7 362 173.5 352.7 179 344.4 185 343.8 186 344.6 190Z"/>
<path fill="#696969" d="M304 190 304 2 493 2 493 57.7 488.6 58 479 68.6 467 75.7 461.1 80 457 84 447.2 96 440 103 434 108 428 111.6 418 114 413 116.6 410.8 119 407 125 405 127.3 392 136.4 387 141.1 375 157.8 366.1 168 362.5 171 351 178.5 342.4 185 341.9 186 342.6 190Z"/>
<path fill="#6b6b6b" d="M304 190 304 2 493 2 493 55.3 489 55.3 488 56 478 66.7 465 74.8 460 78.7 455 84 446.4 95 438.4 103 433 107.6 428 110.6 417 113.6 412.7 116 410 118.9 406.2 125 404.4 127 393 134.9 387.3 140 374 157.3 366 166 361.2 170 350 177.7 340.6 185 340.1 186 341 190Z"/>
<path fill="#6d6d6d" d="M304 190 304 2 493 2 493 53.1 489 53.1 488 53.7 477 65 464.6 73 459.4 77 454 82.8 445.6 94 437.9 102 432.2 107 428 109.6 416.6 113 412 115.7 409.9 118 406.1 124 404 126.5 393 134.2 386.6 140 374 155.7 367 163 361 168.2 349 176.9 338.9 185 338.5 186 339.4 190Z"/>
<path fill="#6f6f6f" d="M304 190 304 2 493 2 493 51 489 51 488 51.6 476 63.4 463 72.2 458.2 76 453 81.6 443.9 94 437.4 101 432 106 427.2 109 416 112.5 411.9 115 409.2 118 404 125.6 393 133.5 388 137.9 384 142 374 154.2 368 160.3 361 166.4 337.3 185 336.9 186 337.9 190Z"/>
<path fill="#717171" d="M304 190 304 2 493 2 493 49.1 489 49.1 488 49.7 476 61.1 462 71 457.1 75 452 80.6 442.2 94 431.7 105 427 108.1 415 112.3 411.1 115 407.7 119 404 124.7 393 132.8 388.2 137 384.2 141 374 152.9 369 157.8 335.7 185 335.3 186 336.5 190Z"/>
<path fill="#737373" d="M304 190 304 2 493 2 493 47.4 489 47.4 488 47.9 475 59.9 461 70 456.1 74 450.7 80 440.7 94 431 104.4 426 107.6 415 111.6 410.3 115 403.8 124 393 132.2 387.4 137 370 155.4 334.1 185 333.7 186 335.1 190Z"/>
<path fill="#757575" d="M304 190 304 2 493 2 493 45.7 489 45.7 488 46.2 474 58.9 456 72.3 450.6 78 440.8 92 432 102.2 427 106.1 415 111 410.7 114 407.2 118 403 123.9 387.8 136 371 153.1 351 169.3 332.5 185 332.2 186 333.7 190Z"/>
<path fill="#777777" d="M304 190 304 2 493 2 493 44.1 489 44.1 488 44.6 474 57.2 455 71.5 449.1 78 439.3 92 430.8 102 426 105.6 415 110.4 410.1 114 402 123.9 387 136 372 151 352 166.9 330.9 185 330.6 186 332.3 190Z"/>
<path fill="#797979" d="M304 190 304 2 493 2 493 42.6 489 42.6 488 43.1 473 56.4 454 70.8 448 77.5 437.9 92 430 101.4 425.3 105 416 109.3 412 111.8 407.6 116 402 123.1 386.1 136 372 149.7 352 165.3 329.2 185 329.1 186 331 190Z"/>
<path fill="#7b7b7b" d="M304 190 304 2 493 2 493 41.2 489 41.2 488 41.7 472 55.7 453.3 70 447 76.9 436.6 92 429 101 425 104.1 416 108.6 412 111.2 407.9 115 401.3 123 382 138.8 372 148.4 352 163.8 327.5 185 327.5 186 329.7 190Z"/>
<path fill="#7d7d7d" d="M304 190 304 2 493 2 493 39.8 489 39.8 488 40.3 472 54.3 452.8 69 446.4 76 435.3 92 427.6 101 424 103.7 412 110.6 407.3 115 400.5 123 381.8 138 372 147.1 352 162.2 325.8 185 325.9 186 328.4 190Z"/>
<path fill="#7f7f7f" d="M304 190 304 2 493 2 493 38.5 489 38.5 488 39 471 53.8 453 67.5 445.9 75 434 92 427 100.2 423.5 103 412 110 406.7 115 400 122.7 381 137.6 371 146.5 355 158.1 326 182.9 324.1 185 324.3 186 327.1 190Z"/>
<path fill="#808080" d="M304 190 304 2 493 2 493 37.2 489 37.2 488 37.7 470.4 53 452.1 67 445 74.6 432.8 92 425.9 100 412 109.4 406.1 115 400 122.1 387 132.3 380.3 137 371 145.1 357 154.7 347 163 333.7 175 325 182 322.2 185 325.8 190Z"/>
<path fill="#828282" d="M304 190 304 2 493 2 493 35.9 489 35.9 488 36.4 470 52.1 450.7 67 444 74.3 433.1 90 427 97.5 423 101.2 411 109.7 405.5 115 399.4 122 387 131.6 379.7 136 370 144 356 153.4 333 173.7 324 180.6 320.1 185 323.2 188 324.6 190Z"/>
<path fill="#848484" d="M304 190 304 2 493 2 493 34.6 489 34.6 488 35.2 469.9 51 450 66.4 443 74.1 432.6 89 426.2 97 421.9 101 410 109.9 398.6 122 387 130.8 381 134 379 135.9 378 136 374 140 373 140 370 143 369 143 367 145 366 145 363 147.9 362 148 360 149.9 359 150 357 151.9 356 152 353 154.9 352 155 349 158 348 158 339 167 338 167 329 175.9 328 176 324 179.9 323 180 318 185 317.2 185 320.6 187 323.3 190Z"/>
<path fill="#868686" d="M304 190 304 2 493 2 493 33.4 489 33.4 488 33.9 469 50.6 449.1 66 442 73.9 431.5 89 425.9 96 421.8 100 410 109.3 398 121.9 384 132 383 132 379 135.9 378 135.9 374 139.9 373 139.9 370 142.9 369 142.9 367 144.9 366 144.9 363 147.9 362 147.9 360 149.9 359 149.9 357 151.9 356 151.9 353 154.9 352 154.9 349 157.9 348 157.9 339 166.9 338 166.9 329 175.9 328 175.9 324 179.9 323 179.9 318 184.9 317 184.9 316 186 319.1 187 322.1 190Z"/>
<path fill="#888888" d="M304 190 304 2 493 2 493 32.1 489 32.1 488 32.7 469 49.4 448.8 65 441.6 73 431 88.1 425 95.6 420.5 100 410 108.6 398.3 121 387 129 384 131.9 383 131.9 379 135.8 378 135.8 374 139.8 373 139.8 370 142.8 369 142.8 367 144.8 366 144.8 363 147.8 362 147.8 360 149.8 359 149.8 357 151.8 356 151.8 353 154.8 352 154.8 349 157.8 348 157.8 339 166.8 338 166.8 329 175.8 328 175.8 324 179.8 323 179.8 318 184.8 317 184.8 315.9 186 316 186.7 319 188 320.9 190Z"/>
<path fill="#8a8a8a" d="M304 190 304 2 493 2 493 30.9 489 30.9 488 31.4 468.2 49 448 64.6 440.5 73 430 88 424.4 95 420.4 99 410 107.9 405 112.9 404.5 114 400 118.9 389 127.9 388 128 384 131.8 383 131.8 379 135.7 378 135.7 374 139.7 373 139.7 370 142.7 369 142.7 367 144.7 366 144.7 363 147.7 362 147.7 360 149.7 359 149.7 357 151.7 356 151.7 353 154.7 352 154.7 349 157.7 348 157.7 339 166.7 338 166.7 329 175.7 328 175.7 324 179.7 323 179.7 318 184.7 317 184.8 315 187.3 317.3 188 319.7 190Z"/>
<path fill="#8c8c8c" d="M304 190 304 2 493 2 493 29.6 489 29.6 488 30.1 468 48 448 63.4 440.2 72 429.6 87 424.1 94 409 108.2 400 118.7 399 119 395 122.9 394 123 389 127.8 388 127.8 384 131.7 383 131.7 379 135.6 378 135.7 374 139.6 373 139.7 370 142.6 369 142.7 367 144.6 366 144.7 363 147.6 362 147.7 360 149.6 359 149.7 357 151.6 356 151.7 353 154.6 352 154.7 349 157.6 348 157.7 339 166.6 338 166.7 329 175.6 328 175.6 324 179.6 323 179.7 318 184.7 317 184.7 314.4 188 317 188.8 318.5 190Z"/>
<path fill="#8e8e8e" d="M304 190 304 2 493 2 493 28.3 489 28.3 488 28.9 468 47 447.2 63 439.1 72 429.3 86 423.8 93 409 107.5 400 118.5 399 118.8 395 122.7 394 122.9 389 127.7 388 127.7 384 131.6 383 131.7 379 135.5 378 135.6 374 139.6 373 139.6 370 142.6 369 142.6 367 144.6 366 144.6 363 147.5 362 147.6 360 149.5 359 149.6 357 151.5 356 151.6 353 154.5 352 154.6 349 157.6 348 157.6 339 166.6 338 166.6 329 175.5 328 175.6 324 179.5 323 179.6 318 184.6 316.6 185 313.9 188 314 188.7 317.1 190Z"/>
<path fill="#909090" d="M304 190 304 2 493 2 493 27 489 27 469 45 449.5 60 445 63.9 438 72 424 91.4 408 107.8 400 118.3 399 118.6 395 122.6 394 122.7 389 127.5 388 127.6 384 131.5 383 131.6 379 135.5 378 135.5 374 139.5 373 139.5 370 142.5 369 142.5 367 144.5 366 144.5 363 147.5 362 147.5 360 149.5 359 149.5 357 151.5 356 151.5 353 154.5 352 154.5 349 157.5 348 157.5 339 166.5 338 166.5 329 175.5 328 175.5 324 179.5 323 179.5 318 184.5 317 184.5 313 189 313 189.3 315.4 190Z"/>
<path fill="#929292" d="M304 190 304 2 493 2 493 25.5 489 25.5 481.2 33 469 43.9 444.8 63 437.7 71 424 90 407 108.2 400 118.1 399 118.5 395 122.4 394 122.6 389 127.4 388 127.5 384 131.4 383 131.5 379 135.4 378 135.4 374 139.4 373 139.4 370 142.4 369 142.4 367 144.4 366 144.4 363 147.4 362 147.4 360 149.4 359 149.4 357 151.4 356 151.4 353 154.4 352 154.4 349 157.4 348 157.4 339 166.4 338 166.4 329 175.4 328 175.4 324 179.4 323 179.4 318 184.4 317 184.5 312 190Z"/>
<path fill="#949494" d="M304 190 304 2 493 2 493 24 489 24 481 32 470 42 460.2 50 448 59 443.5 63 437 70.6 422.9 90 406 108.6 399.9 118 399 118.3 395 122.3 394 122.5 389 127.3 388 127.4 384 131.3 383 131.4 379 135.3 378 135.4 374 139.3 373 139.4 370 142.3 369 142.4 367 144.3 366 144.4 363 147.3 362 147.3 360 149.3 359 149.3 357 151.3 356 151.4 353 154.3 352 154.3 349 157.3 348 157.4 339 166.3 338 166.4 329 175.3 328 175.3 324 179.3 323 179.3 318 184.3 317 184.4 312 189.9Z"/>
<path fill="#969696" d="M304 190 304 2 493 2 493 22.4 489 22.4 481.8 30 471 40 460.1 49 447 58.6 442.3 63 435.5 71 424 87.3 406.5 107 399.3 118 395 122.2 394 122.3 389 127.2 388 127.3 384 131.2 383 131.3 379 135.2 378 135.3 374 139.2 373 139.3 370 142.2 369 142.3 367 144.2 366 144.3 363 147.2 362 147.3 360 149.2 359 149.3 357 151.2 356 151.3 353 154.2 352 154.3 349 157.2 348 157.3 339 166.2 338 166.3 329 175.2 328 175.3 324 179.2 323 179.3 318 184.2 317 184.3 312 189.8Z"/>
<path fill="#989898" d="M304 190 304 2 493 2 493 19.5 489 19.5 482 28 472.5 37 460.6 47 446 57.8 441.4 62 435.4 69 421.8 88 406 106.5 398.7 118 395 122 394 122.2 389 127.1 388 127.2 384 131.1 383 131.2 379 135.1 378 135.2 374 139.2 373 139.2 370 142.2 369 142.2 367 144.2 366 144.2 363 147.1 362 147.2 360 149.1 359 149.2 357 151.2 356 151.2 353 154.1 352 154.2 349 157.2 348 157.2 339 166.1 338 166.2 329 175.1 328 175.2 324 179.1 323 179.2 318 184.2 317 184.2 312 189.6Z"/>
<path fill="#9a9a9a" d="M304 190 304 2 493 2 493 15.7 489 15.7 482.6 25 475.8 32 462 44 445 56.6 439.3 62 433.5 69 422 85.4 406 105 398 117.8 394.3 122 389 127 388 127.1 384 131.1 383 131.1 379 135.1 378 135.1 374 139.1 373 139.1 370 142.1 369 142.1 367 144.1 366 144.1 363 147.1 362 147.1 360 149.1 359 149.1 357 151.1 356 151.1 353 154.1 352 154.1 349 157.1 348 157.1 339 166.1 338 166.1 329 175.1 328 175.1 324 179.1 323 179.1 318 184.1 317 184.1 312 189.5 310.6 190Z"/>
<path fill="#9c9c9c" d="M304 190 304 2 493 2 493 11.2 489 11.2 488 12.2 481.9 23 476.6 29 461.8 42 443 56 437 62 432.1 68 421.1 84 405 104.8 397 118 392.4 123 373.9 139 373 139.1 369.9 142 369 142.1 367 144 366 144.1 363 146.8 362 147 356.9 151 356 151 352.7 154 352 154 348.9 157 348 157.1 328.6 175 328 175 323.7 179 323 179 317.9 184 317 184.1 312 189.4 311 189.5 310.5 190Z"/>
<path fill="#9e9e9e" d="M488.8 2 488.8 6 478.5 24 473.8 29 464.9 37 454.9 45 442.1 54 435 61 429.5 68 419.8 83 404 104.5 396.7 117 392.4 122 384.9 129 374 138 349 155.9 331 172 317.8 183 312 189.3 311 189.3 310.4 190 304 190 304 2Z"/>
<path fill="#a0a0a0" d="M485.1 2 484.8 7 477.9 20 474 25.2 468.1 31 459.9 38 438.8 53 434.6 57 430.2 62 426.8 67 418.3 82 403 104.2 396 116.6 392.4 121 384.9 128 374 137 348 155.7 330 171.8 314.5 185 314 187 312 189.2 311 189.2 310.3 190 304 190 304 2Z"/>
<path fill="#a2a2a2" d="M481.4 2 481 7 473.3 20 469.3 25 463 31 455.7 37 436 50.3 431 54.9 427 59.5 423.7 65 419.2 76 415.5 83 401.9 104 395.4 116 391.3 121 384 127.8 374 136 347 155.5 329.7 171 314.2 184 312.7 186 312.7 188 312 189.1 311 189.1 310.2 190 304 190 304 2Z"/>
<path fill="#a4a4a4" d="M477 2 477 6 476.5 7 467.3 19 462 25 452.1 34 433.6 47 428 52.3 423.2 58 420 63.9 416.6 76 413.5 83 400.7 104 394.9 115 391.1 120 384.9 126 374 134.9 352 150.4 346 155.2 329.5 170 311.8 185 311.3 186 311.3 189 310.1 190 304 190 304 2Z"/>
<path fill="#a6a6a6" d="M472.1 2 472.1 6 471.6 7 455.5 25 448 32 432 44.2 426 50.1 421 56 419 59.1 417 63.6 414.3 76 411.6 83 407.3 91 399.4 104 394 114.4 389.8 120 383.5 126 373.6 134 348 152.3 328.1 170 314 181.7 310.4 185 309.9 186 309.9 190 304 190 304 2Z"/>
<path fill="#a8a8a8" d="M468 2 468 6 467.5 7 453.1 23 446 29.9 430 42.9 424 49 418.3 56 414.9 63 412.3 76 409.4 84 405.8 91 397.5 105 392.9 114 389 119.4 383 125.2 372 134 347 151.8 308 186 304 186 304 2Z"/>
<path fill="#aaaaaa" d="M464.7 2 464.7 6 464.2 7 452 21 445 27.9 433.7 37 428.3 42 422 48.5 416.9 55 415 58.2 413 63 410.3 77 407.3 85 396.6 104 392 113.1 387.8 119 382.8 124 374.1 131 346 151.1 326.1 169 308 184 304 184 304 2Z"/>
<path fill="#acacac" d="M461.9 2 461.9 6 461.5 7 451.5 19 444 26.5 433 35.5 427 41.1 420 48.6 415.1 55 411.5 63 408.8 77 405.9 85 390.4 113 386.1 119 380.9 124 372 131 346 149.5 324.2 169 309 181.9 308 182.4 304 182.4 304 2Z"/>
<path fill="#aeaeae" d="M459.6 2 459.6 6 459.2 7 450.3 18 443.4 25 432 34.5 426 40.2 419 47.7 414.2 54 412 58 410.1 63 407.4 77 404.5 85 389 112.3 385 118 381 122 374.8 127 345 148.4 309 180.3 308 180.9 304 180.9 304 2Z"/>
<path fill="#b0b0b0" d="M457.6 2 457.6 6 457.2 7 449.4 17 442.5 24 431 33.7 425 39.4 418.8 46 413.4 53 411.2 57 409.2 62 406.4 76 403.1 85 387 112.1 383.4 117 379.4 121 374.4 125 343 147.8 309 178.7 308 179.2 304 179.2 304 2Z"/>
<path fill="#b2b2b2" d="M455.7 2 455.3 7 449 15.3 441.6 23 431 32 424 38.7 418 45.1 412.7 52 410 56.8 408 61.9 405.1 76 401.7 85 397 92.9 382 115.1 374.5 122 343 145.2 309 176.9 308 177.4 304 177.4 304 2Z"/>
<path fill="#b4b4b4" d="M453.9 2 453.5 7 448 14.4 440.6 22 424 37 417 44.5 412 51 408.6 57 406.7 62 404 75.1 400.2 85 392 97.6 381 111.9 374.6 118 350 136.6 340 144.9 328 156 309 175 308 175.6 304 175.6 304 2Z"/>
<path fill="#b6b6b6" d="M449.4 2 449 7 445 12.3 439 18.8 421 35.8 415 42.5 410 49.2 407.2 54 404.7 60 401 74.4 398.5 81 395 87.2 389 95 378 106 356 124 335 142.9 324 153.5 309 170 308 170.7 304 170.7 304 2Z"/>
<path fill="#b8b8b8" d="M442 2 442 6 440.1 9 418 32.6 411.8 40 407 46.8 401.8 57 395 76.9 392 82.2 388 87.4 381 94.3 362 109.5 351 119.3 321.5 148 309 161.8 308 162.5 304 162.5 304 2Z"/>
<path fill="#bababa" d="M433.9 2 433.9 6 433.5 7 416 27.8 404 44.4 399 54 391.9 72 389.1 77 386 81.2 379 88 363 100.4 353 109.2 309 153.6 308 154.3 304 154.3 304 2Z"/>
<path fill="#bcbcbc" d="M425.5 2 425.5 6 425.1 7 415 20.7 401.5 41 397.2 49 389 67.2 386.2 72 383.2 76 377 82 362 93.4 353 101.3 328 127.4 309 146.1 308 146.7 304 146.7 304 2Z"/>
<path fill="#bebebe" d="M417.3 2 416.9 7 397.3 40 387 61.1 381 70.5 375 76.3 361 86.5 353 93.4 342.5 104 325.2 123 309 138.9 308 139.5 304 139.5 304 2Z"/>
<path fill="#c0c0c0" d="M410 2 409.7 7 403 21 392.7 40 385.4 55 378.9 65 373 70.9 357.6 82 350 88.6 337.9 101 322.8 118 309 131.8 308 132.4 304 132.4 304 2Z"/>
<path fill="#c2c2c2" d="M404.8 2 404.6 7 397.2 24 383.4 51 377 60.7 371 66.8 355 78.4 346.4 86 335.4 97 320 114 309 125.3 308 125.8 304 125.8 304 2Z"/>
<path fill="#c4c4c4" d="M399.9 2 399.7 7 392.5 25 381.9 46 375 56.4 368 63.4 352.3 75 343.1 83 329.7 96 309 117.8 308 118.4 304 118.4 304 2Z"/>
<path fill="#c6c6c6" d="M395.1 2 394.9 7 387.7 26 379.8 42 373 52.1 366 59.1 350 71.2 339.6 80 322.2 96 309 109.3 308 109.9 304 109.9 304 2Z"/>
<path fill="#c8c8c8" d="M390.2 2 390.1 7 383.3 26 376.9 39 373.8 44 370 48.9 363.7 55 344 70.3 308 100.8 304 100.8 304 2Z"/>
<path fill="#cacaca" d="M385.3 2 385.1 7 381.8 18 379 25.6 373.3 37 367 45.6 361 51.2 330 75.8 308 92.1 304 92.1 304 2Z"/>
<path fill="#cccccc" d="M380.2 2 380 7 377.4 17 374.9 24 370 34 364 42 358.5 47 324 74.1 308 84 304 84 304 2Z"/>
<path fill="#cecece" d="M375 2 374.9 7 373 15 371.1 21 367 30 361.3 38 356 42.7 322 69.3 309 76.3 304 76.6 304 2Z"/>
<path fill="#d0d0d0" d="M369.9 2 369.8 7 366.7 19 362.6 28 357.7 35 339 50.6 320 64.7 315 67.5 309 70.2 304 70.4 304 2Z"/>
<path fill="#d2d2d2" d="M363.7 2 363.6 7 359.1 22 355 30 350.1 36 340 45.2 329 52.7 309 62.5 304 62.8 304 2Z"/>
<path fill="#d4d4d4" d="M304 2 356.8 2 356.7 7 353.6 20 351.6 26 348.9 31 345.1 36 341 40.3 336 44.3 331 47.4 327 49.2 322 50.7 308 53.8 304 53.8Z"/>
<path fill="#d6d6d6" d="M304 2 351.5 2 351.5 6 350.1 16 347.9 25 344.4 32 338.4 39 332 43.6 325 46.3 320 47 304 47.5Z"/>
<path fill="#d8d8d8" d="M304 2 347.8 2 347.2 15 345.4 24 342.7 30 337 37.1 331 41.3 325 43.6 320 44 304 43.3Z"/>
<path fill="#dadada" d="M304 2 345.1 2 344.9 15 343.3 23 340.1 30 335.1 36 330 39.4 324 41.4 319 41.7 309 40.4 304 40.3Z"/>
<path fill="#dcdcdc" d="M304 2 342.7 2 342.8 14 341.5 22 339 28 334 34.3 329 37.6 323 39.5 318 39.5 309 37.8 304 37.6Z"/>
<path fill="#dedede" d="M304 2 340.4 2 340.9 13 340 20 337.3 27 333 32.6 328 35.9 322 37.6 316 37.2 308 35 304 35Z"/>
<path fill="#e0e0e0" d="M304 2 337.8 2 337.8 6 338.8 13 338.2 19 336 25.4 331.8 31 327 34.2 324 35.2 321 35.6 315 34.8 308 32.1 304 32.1Z"/>
<path fill="#e2e2e2" d="M304 2 334.1 2 334.1 6 336.2 12 336.2 17 334.2 24 330.6 29 326 32.1 323 33.1 320 33.2 317 32.8 313 31.2 308 27.1 304 27.1Z"/>
<path fill="#e4e4e4" d="M330 11.5 332 14 332.3 18 331.3 22 329 25.8 326.4 28 323 29.4 320 29.4 316.8 28 315.1 26 314.5 23 315.2 20 317 17 319.8 14 323 11.9 327 10.8Z"/>
</g>
<path d="M341.3 6.8C341.4 8.2 342.2 11.9 341.8 15.0C341.4 18.1 340.7 22.4 339.2 25.6C337.7 28.8 335.3 32.1 332.8 34.2C330.3 36.4 327.1 37.9 324.2 38.5C321.3 39.1 318.3 38.5 315.7 38.0C313.1 37.5 309.6 35.8 308.4 35.3" fill="none" stroke="#ffb050" stroke-width="0.8" opacity="0.7"/>
<path d="M375.5 6.8C375.1 8.5 374.5 13.6 373.4 17.1C372.3 20.6 370.9 24.2 369.1 27.8C367.3 31.4 365.6 35.3 362.7 38.5C359.8 41.7 355.6 44.1 352.0 47.0C348.4 49.9 344.9 52.8 341.3 55.6C337.7 58.5 334.2 61.4 330.6 64.1C327.1 66.8 323.7 69.5 320.0 71.6C316.3 73.7 310.3 76.0 308.4 76.9" fill="none" stroke="#ffc83c" stroke-width="0.8" opacity="0.7"/>
<path d="M410.0 6.8C409.3 8.5 407.5 13.3 405.7 17.1C403.9 21.0 401.5 26.0 399.3 29.9C397.1 33.8 394.6 36.7 392.6 40.6C390.6 44.5 389.8 48.8 387.3 53.4C384.8 58.0 381.0 64.7 377.6 68.4C374.2 72.2 370.6 73.4 367.0 75.9C363.4 78.4 359.5 80.6 356.3 83.3C353.1 86.0 350.9 88.7 347.7 91.9C344.5 95.2 340.6 98.8 337.0 102.8C333.4 106.8 329.9 111.7 326.4 115.6C322.8 119.5 318.7 123.3 315.7 126.3C312.7 129.3 309.6 132.6 308.4 133.8" fill="none" stroke="#e8b000" stroke-width="0.85" opacity="0.9"/>
<path d="M454.4 6.8C453.4 8.2 450.8 12.2 448.4 15.0C446.0 17.8 443.1 20.7 439.9 23.5C436.7 26.3 432.8 28.8 429.2 32.0C425.6 35.2 421.7 39.1 418.5 42.7C415.3 46.3 412.1 49.8 410.0 53.4C407.9 57.0 406.6 60.5 405.7 64.1C404.8 67.7 405.5 71.2 404.6 74.8C403.7 78.4 401.9 82.6 400.3 85.5C398.7 88.4 396.6 89.8 395.0 92.0C393.4 94.2 393.0 95.6 390.5 98.5C388.0 101.4 383.4 106.0 379.8 109.2C376.2 112.4 372.7 115.0 369.1 117.8C365.5 120.6 362.0 123.4 358.4 126.3C354.8 129.2 351.3 131.9 347.7 134.9C344.1 137.9 340.6 141.3 337.0 144.5C333.4 147.7 329.9 150.4 326.4 154.1C322.8 157.8 318.7 163.1 315.7 166.5C312.7 169.9 309.6 173.2 308.4 174.5" fill="none" stroke="#b06018" stroke-width="0.85" opacity="0.9"/>
<path d="M488.6 29.9C487.2 31.1 483.6 34.5 480.5 37.4C477.4 40.2 473.4 44.0 469.8 47.0C466.2 50.0 462.7 52.9 459.1 55.6C455.5 58.3 451.6 60.2 448.4 63.0C445.2 65.8 442.8 68.8 439.9 72.6C437.0 76.3 434.1 81.6 431.3 85.5C428.5 89.4 425.7 93.0 422.8 96.2C419.9 99.4 417.2 101.1 414.2 104.7C411.2 108.3 408.2 114.2 405.0 117.8C401.8 121.4 398.2 123.4 394.7 126.3C391.2 129.2 387.7 132.1 384.1 134.9C380.6 137.8 377.0 140.7 373.4 143.4C369.8 146.1 366.3 148.4 362.7 150.9C359.1 153.4 355.6 155.6 352.0 158.4C348.4 161.2 344.9 164.8 341.3 168.0C337.7 171.2 334.0 174.7 330.6 177.6C327.2 180.5 322.6 184.2 321.0 185.5" fill="none" stroke="#2ee000" stroke-width="1.1" opacity="1"/>
<path d="M488.6 90.0C487.2 90.7 483.6 92.5 480.5 94.3C477.4 96.1 473.4 98.2 469.8 100.7C466.2 103.2 462.7 106.7 459.1 109.2C455.5 111.7 452.0 113.8 448.4 115.6C444.8 117.4 441.2 118.3 437.7 119.9C434.1 121.5 430.7 123.2 427.1 125.3C423.6 127.4 419.6 129.7 416.4 132.7C413.2 135.7 410.6 139.5 407.8 143.4C405.0 147.3 401.1 152.6 399.3 156.2C397.5 159.8 398.5 161.6 396.9 164.8C395.2 168.0 391.7 172.1 389.4 175.5C387.1 178.9 384.1 183.8 383.0 185.5" fill="none" stroke="#1e5a14" stroke-width="0.85" opacity="0.9"/>
<path d="M488.6 131.7C487.2 132.8 483.6 135.8 480.5 138.1C477.4 140.4 473.4 143.6 469.8 145.6C466.2 147.6 462.7 148.6 459.1 149.8C455.5 151.0 452.0 151.6 448.4 153.0C444.8 154.4 440.5 156.4 437.7 158.4C434.9 160.4 433.1 162.0 431.3 164.8C429.5 167.7 428.4 172.1 427.1 175.5C425.9 178.9 424.4 183.8 423.8 185.5" fill="none" stroke="#1e5030" stroke-width="0.85" opacity="0.9"/>
</g>
<rect x="308.4" y="6.5" width="180.2" height="179" fill="none" stroke="#3a3a2a" stroke-width="0.6" opacity="0.7"/>
<rect x="496" y="6.5" width="18.3" height="179" fill="url(#cb)" stroke="#3a3a2a" stroke-width="0.5" stroke-opacity="0.6"/>
<path d="M308.4 185.5v2.2" stroke="#333" stroke-width="0.7"/>
<text x="309.4" y="197" font-size="10" text-anchor="middle">15.8</text>
<path d="M353.4 185.5v2.2" stroke="#333" stroke-width="0.7"/>
<text x="353.4" y="197" font-size="10" text-anchor="middle">16.0</text>
<path d="M398.5 185.5v2.2" stroke="#333" stroke-width="0.7"/>
<text x="398.5" y="197" font-size="10" text-anchor="middle">16.2</text>
<path d="M443.6 185.5v2.2" stroke="#333" stroke-width="0.7"/>
<text x="443.6" y="197" font-size="10" text-anchor="middle">16.4</text>
<path d="M488.6 185.5v2.2" stroke="#333" stroke-width="0.7"/>
<text x="486.3" y="197" font-size="10" text-anchor="middle">16.6</text>
<path d="M308.4 6.5h-2.2" stroke="#333" stroke-width="0.7"/>
<text x="304.1" y="9.7" font-size="10" text-anchor="end">20.4</text>
<path d="M308.4 51.2h-2.2" stroke="#333" stroke-width="0.7"/>
<text x="304.1" y="54.5" font-size="10" text-anchor="end">20.3</text>
<path d="M308.4 96h-2.2" stroke="#333" stroke-width="0.7"/>
<text x="304.1" y="99.2" font-size="10" text-anchor="end">20.2</text>
<path d="M308.4 140.8h-2.2" stroke="#333" stroke-width="0.7"/>
<text x="304.1" y="143.9" font-size="10" text-anchor="end">20.1</text>
<path d="M308.4 185.5h-2.2" stroke="#333" stroke-width="0.7"/>
<text x="304.1" y="188.7" font-size="10" text-anchor="end">20.0</text>
<text x="518.6" y="10.8" font-size="10">1.3000</text>
<text x="517.9" y="189.5" font-size="10">1.2000</text>
<text x="406.2" y="211.1" font-size="10.5" text-anchor="middle">Vopen_(V)</text>
<text x="406.5" y="229" font-size="12.5" text-anchor="middle">(b)</text>
<text transform="translate(277.5 84.4) rotate(-90)" font-size="10.3" text-anchor="middle">Pmax-(W)</text>
<text transform="translate(528 90.2) rotate(-90)" font-size="10.3" text-anchor="middle" word-spacing="2.6">Ishort (A)</text>
<g clip-path="url(#cpc)"><g filter="url(#cm)">
<rect x="37" y="238" width="188" height="187" fill="#565656"/>
<path fill="#595959" d="M37 425 37 238 225 238 225 307.1 220 307.1 179 333.5 136 362.5 119 376.5 93.6 400 74.2 420 73.9 425Z"/>
<path fill="#5b5b5b" d="M37 425 37 238 225 238 225 278.7 178 321.2 170.2 327 158.9 337 116 376.6 102.4 388 77 410.9 59.7 425ZM225 281 225 305.5 220 305.6 180 331.7 142 357.3 134 363.3 133 363 140.8 355 172 326.8 179 321.8ZM132 364.4 131.9 364 133 363 133.1 364ZM130.8 365 131.5 365 131 365.3ZM129.7 366 130 365.7 130.4 366 130 366.3ZM128.6 367 129 366.7 129.3 367ZM90.7 401 91 400.7 91.3 401 91 401.3ZM89.6 402 90 401.6 90.4 402 90 402.4ZM88.5 403 89 402.6 89.4 403 89 403.4ZM88.5 404 72.8 420 72.4 421 72.4 425 63.6 425 78 412.8 88 403.5Z"/>
<path fill="#5d5d5d" d="M37 425 37 238 225 238 225 277.7 178 320.5 170 326.6 140.4 353 134 359.5 115.7 376 102.6 387 76.7 410 58.1 425ZM225 282.4 225 303.9 220 303.9 183 328.5 153.3 349 142 356.4 141.1 356 171.7 328 179 322.8 207.9 297ZM140.7 357 141 356.4 141.1 357ZM70.2 422 70.7 423 70.8 425 66.6 425Z"/>
<path fill="#5f5f5f" d="M37 425 37 238 225 238 225 276.8 180 318.1 170 326.1 115 375.8 76 409.6 56.5 425ZM225 284.4 225 302.2 220 302.3 152 348.6 151.6 348 172 329.2 180 323.5 205.2 301ZM150.5 349 151 348.6 151.6 349ZM149.5 350 150 349.5 150.3 350Z"/>
<path fill="#616161" d="M37 425 37 238 225 238 225 275.8 179 318.4 160.3 334 114 375.9 76 408.6 67 415.8 54.7 425ZM225 287.2 225 300.5 220 300.5 168 336.3 167.1 336 173.7 330 181.1 325 206.8 302ZM166.1 337 167 336.2 167.3 337Z"/>
<path fill="#636363" d="M37 425 37 238 225 238 224.8 275 202 296.8 179 317.8 159.7 334 114 375.1 75 408.4 58 421.5 52.6 425ZM225 291.6 225 298.7 220 298.8 204 310.1 202.6 310 209.3 304ZM201.5 311 202 310.6 202.3 311ZM200.4 312 201 311.5 201.2 312Z"/>
<path fill="#656565" d="M37 425 37 238 225 238 225 273.8 202.1 296 179 317.3 159.1 334 114 374.4 75 407.4 55 422.5 50.3 425Z"/>
<path fill="#676767" d="M37 425 37 238 225 238 225 273 201 296.8 177 318.8 168.9 325 138 352 130 359.8 112 375.7 74 407.7 55 421.8 49 424.8Z"/>
<path fill="#696969" d="M37 425 37 238 225 238 225 272.7 201 296.5 177 318.6 169.9 324 154.9 337 113 374.6 75 406.5 66 413.5 53 422.5 47.2 425Z"/>
<path fill="#6b6b6b" d="M37 425 37 238 225 238 225 272.4 213.6 284 178 317.5 155.9 336 113 374.3 76 405.4 63 415.3 53 422.1 46.4 425Z"/>
<path fill="#6d6d6d" d="M37 425 37 238 225 238 225 272.1 213.4 284 178 317.3 156.9 335 114 373.2 76 405.1 65 413.6 54 421.4 45.7 425Z"/>
<path fill="#6f6f6f" d="M37 425 37 238 225 238 225 271.9 213.2 284 179 316.2 157.9 334 113 373.9 75 405.7 65 413.4 54 421.1 45 425Z"/>
<path fill="#717171" d="M37 425 37 238 225 238 225 271.6 213 284 178 316.9 158.9 333 113 373.7 76 404.6 65 413.2 54 420.9 44.3 425Z"/>
<path fill="#737373" d="M37 425 37 238 225 238 225 271.4 212.8 284 178 316.8 138.1 351 113 373.5 76 404.4 65 412.9 54 420.6 43.5 425Z"/>
<path fill="#757575" d="M37 425 37 238 225 238 225 271.1 212.6 284 178 316.6 139.1 350 112.2 374 76 404.2 65 412.7 54 420.4 42.7 425Z"/>
<path fill="#777777" d="M37 425 37 238 225 238 225 270.8 212.5 284 178 316.5 156.1 335 110 375.7 75 404.8 65 412.5 53 420.7 42 425Z"/>
<path fill="#797979" d="M37 425 37 238 225 238 225 270.6 212.3 284 178 316.4 156 335 110 375.6 76 403.8 65 412.3 53 420.5 41.2 425Z"/>
<path fill="#7b7b7b" d="M37 425 37 238 225 238 225 270.3 212.1 284 178 316.2 157 334 103 381.4 76 403.6 64 412.8 53 420.2 40.3 425Z"/>
<path fill="#7d7d7d" d="M37 425 37 238 225 238 225 270.1 211.9 284 178 316.1 158 333 104 380.4 76 403.4 64 412.6 53 420 39.5 425Z"/>
<path fill="#7f7f7f" d="M37 425 37 238 225 238 225 269.8 211.7 284 178 316 157.9 333 101.9 382 77 402.4 64 412.4 53 419.8 38.7 425Z"/>
<path fill="#808080" d="M37 425 37 238 225 238 225 269.6 211.5 284 177.8 316 138.1 350 101.8 382 79 400.6 64 412.2 53 419.6Z"/>
<path fill="#828282" d="M37 425 37 238 225 238 225 269.3 211.4 284 200.2 295 177.7 316 138 350 101.6 382 85 395.6 65 411.3 53 419.4Z"/>
<path fill="#848484" d="M37 424.7 37 238 225 238 225 269 211.2 284 200.1 295 177.5 316 139 349 101.4 382 86 394.6 64 411.8 53 419.2Z"/>
<path fill="#868686" d="M37 424.4 37 238 225 238 225 268.8 212 283 200.9 294 177 316.3 137.7 350 101.3 382 76 402.5 64 411.6 53 419Z"/>
<path fill="#888888" d="M37 424.2 37 238 225 238 225 268.5 211.8 283 200.8 294 177 316.2 137.5 350 101.1 382 76 402.3 64 411.4 53 418.8Z"/>
<path fill="#8a8a8a" d="M37 423.9 37 238 225 238 225 268.3 211.6 283 200 294.6 177 316.1 137.4 350 102 381.1 77 401.3 64 411.3 53 418.6Z"/>
<path fill="#8c8c8c" d="M37 423.7 37 238 225 238 225 268 211.5 283 200 294.5 175.8 317 103 380 77 401.1 64 411.1 53 418.4Z"/>
<path fill="#8e8e8e" d="M37 423.5 37 238 225 238 225 267.8 211.3 283 200 294.3 175.7 317 104 379 76.9 401 65 410.2 53 418.1Z"/>
<path fill="#909090" d="M37 423.2 37 238 225 238 225 267.5 211.1 283 200 294.2 176.6 316 136 350.8 111.9 372 73 403.9 62.2 412 53 417.9Z"/>
<path fill="#929292" d="M37 423 37 238 225 238 225 267.3 211 283 200 294 175.4 317 97.4 384 73 403.5 62 411.9 54 416.9 40 422.4Z"/>
<path fill="#949494" d="M37 422.7 37 238 225 238 225 267 211 282.7 199.9 294 175.2 317 103 379.2 77 400.1 64 410 54.9 416 50.9 418 44 420.3 43 421.1 41 421.4 40 422.2Z"/>
<path fill="#969696" d="M37 422.2 37 238 225 238 225 266.7 211 282.5 199.7 294 175.1 317 103 379 83 395 64.9 409 55.8 415 52 417.1 43.7 420 42.5 421 41 421.2 40 422.1Z"/>
<path fill="#989898" d="M37 420.3 37 238 225 238 225 266.3 211 282.3 199.5 294 175 316.9 105 377 80 397 63 409.8 54 415.4 49 417.7 41 420.3Z"/>
<path fill="#9a9a9a" d="M37 419.4 37 238 225 238 225 266 211 282.1 199.3 294 175 316.8 106 375.8 84 393.5 65 407.8 55 414.2 50 416.6 42 419.2Z"/>
<path fill="#9c9c9c" d="M37 418.6 37 238 225 238 225 265.6 210.9 282 199.1 294 175 316.6 106 375.5 85 392.3 66 406.5 55 413.5 50 415.9 42 418.5Z"/>
<path fill="#9e9e9e" d="M37 417.9 37 238 225 238 225 265.2 210.6 282 198.9 294 175 316.4 146.3 341 135 350.1 106 375.2 88 389.6 69 403.8 56 412.2 50 415.2 42 417.7Z"/>
<path fill="#a0a0a0" d="M37 417.1 37 238 225 238 225 264.9 210.4 282 198.7 294 175 316.3 146.1 341 135.9 349 105.9 375 88 389.3 69 403.2 56 411.5 50 414.4 42 417Z"/>
<path fill="#a2a2a2" d="M37 416.4 37 238 225 238 225 264.5 210.2 282 198.5 294 175 316.1 147 340.1 135.5 349 105.5 375 88 388.9 69 402.7 56 410.8 50 413.7 41 416.4Z"/>
<path fill="#a4a4a4" d="M37 415.6 37 238 225 238 225 264.1 210 282 198 294.3 176.1 315 148 339 136 348.2 105.1 375 88 388.6 69 402.1 56 410.1 50 412.9 41 415.6Z"/>
<path fill="#a6a6a6" d="M37 414.9 37 238 225 238 225 263.8 211 280.6 196 296 168.8 321 150 336.9 135.8 348 105 374.8 88 388.2 69 401.6 56 409.4 50 412.2 41 414.9Z"/>
<path fill="#a8a8a8" d="M37 414.1 37 238 225 238 225 263.4 211 280.4 198 293.9 168.2 321 151 335.7 135 348.3 105 374.5 91 385.6 71 399.7 57 408.2 51 411 41 414.1Z"/>
<path fill="#aaaaaa" d="M37 413.3 37 238 225 238 225 263 211 280.1 198 293.1 167.7 321 151 335.3 135 348 105 374.2 92 384.6 73 397.9 58 407 52 409.9 46 412 41 413.3Z"/>
<path fill="#acacac" d="M37 412.5 37 238 225 238 225 262.7 216 274 209.7 281 173 315.8 151 334.9 135 347.6 105 373.9 85 389.3 69 400 56 407.3 50 409.9 43 412.1Z"/>
<path fill="#aeaeae" d="M37 411.7 37 238 225 238 225 262.4 222 266.3 220 267.8 215.1 274 209 280.5 173 315.2 151 334.4 135 347.3 105 373.6 87 387.5 70 398.9 57 406.1 51 408.7 41 411.7Z"/>
<path fill="#b0b0b0" d="M37 410.9 37 238 225 238 225 262.1 222.4 265 222 266 220 266.2 214.7 273 208 280.3 172 315.6 151 334 135 347 105 373.3 87 387.2 70 398.3 57 405.4 51 408 41 410.9Z"/>
<path fill="#b2b2b2" d="M37 410 37 238 225 238 225 261.7 223 264.1 220 264.4 215.2 271 209.1 278 172 315.1 150.5 334 135 346.6 108.5 370 88 386.1 72 396.6 58 404.2 52 406.8 41 410Z"/>
<path fill="#b4b4b4" d="M37 409.2 37 238 225 238 225 261.3 224 262.6 220 262.8 213.2 272 205.1 281 167 319.2 150 334.1 136 345.4 108.2 370 97 379.1 86 387.2 72 396.1 57 404 49.2 407 42.1 409Z"/>
<path fill="#b6b6b6" d="M37 407.1 37 238 225 238 225 259.2 220 259.4 208.1 275 196.5 288 182.2 303 166 319 150.1 333 133 347.2 108 369.4 95 379.9 87 385.6 72 395 59 401.5 52 404.2 41 407.1Z"/>
<path fill="#b8b8b8" d="M37 404.1 37 238 225 238 225 254.8 220 255 205.9 274 191.5 291 170.7 313 149 332.6 133 346 125 353.5 103.5 372 91 381.6 83 386.9 70 394.2 59 399.1 52 401.4 43 403.7Z"/>
<path fill="#bababa" d="M37 400.9 37 238 225 238 225 250.2 220 250.3 203.3 274 193 287 183.3 298 165 316.9 115.1 361 94 378.2 85.4 384 76 389.4 65 394.5 56 397.6 42 400.8Z"/>
<path fill="#bcbcbc" d="M37 397.6 37 238 225 238 225 244.9 220 245.1 200.8 274 191 287 178.8 301 160.9 319 110 364 99 373 91 378.9 83 383.9 75 388.2 66 391.9 57 394.6 42 397.5Z"/>
<path fill="#bebebe" d="M37 394.2 37 238 217.7 238 217.7 242 203 267 190.4 285 181 296.5 168.4 310 160.2 318 114 359.1 101 370 93 376 85 381.1 76 385.8 67.8 389 59 391.4 42 394.1Z"/>
<path fill="#c0c0c0" d="M37 390.6 37 238 213.4 238 213.1 243 201.4 265 189.6 283 180.2 295 167.5 309 159 317.4 113 358.4 101 368.4 93 374.4 85 379.4 77 383.4 69 386.3 60 388.5 46 390.2Z"/>
<path fill="#c2c2c2" d="M37 387.4 37 238 209.9 238 209.6 243 199.9 263 188.8 281 180 293 167.6 307 158.8 316 144.9 329 120 350.9 95.6 371 87 376.7 79 380.8 70 384 62 385.8 52 386.8Z"/>
<path fill="#c4c4c4" d="M37 384 37 238 206.1 238 205.9 243 196.9 263 187.1 280 178.7 292 166.7 306 157.1 316 142.2 330 120.5 349 96 369.1 87 375 79 378.9 71 381.5 63 383 54 383.7Z"/>
<path fill="#c6c6c6" d="M37 380 37 238 201.9 238 201.6 243 194 261.9 186.8 276 180 287 173.3 296 161.1 310 149.1 322 136 334 100 364.1 91.8 370 83 375 75 378 65 380 57 380.3Z"/>
<path fill="#c8c8c8" d="M37 375.5 37 238 196.9 238 196.6 243 189.1 264 183.1 277 177.3 287 170.1 297 159.1 310 147.4 322 135 333.4 119 346.8 97 364 89.6 369 82 372.9 74 375.4 66 376.5Z"/>
<path fill="#cacaca" d="M37 370.2 37 238 190.8 238 190.6 243 183.9 266 179 278 173.6 288 167.5 297 157.8 309 146.5 321 134.7 332 119 344.7 96.7 361 89.2 366 83 369.1 76 371.3 69 372.1 47 370.3Z"/>
<path fill="#cccccc" d="M37 364.2 37 238 183.6 238 183.6 242 182 247.9 180.4 259 178.9 266 175.3 277 170.3 288 164.6 297 156.3 308 146.4 319 134.9 330 125 338 115 345.3 92 359.3 83 363.6 78 364.9 72 365.5 50 364.1Z"/>
<path fill="#cecece" d="M37 358.2 37 238 176.9 238 176.9 242 176.1 247 175.4 257 174.2 265 171.7 275 166.9 288 161.7 297 154.7 307 145.2 318 133.8 329 123 337.5 114 343.3 103 348.7 93 352.3 84 354.7 68 357.1Z"/>
<path fill="#d0d0d0" d="M37 353.3 37 238 172.3 238 171 258 169.8 267 167.2 278 163.8 288 157.8 299 151.4 308 143 318 132.7 328 125 334 116 339.8 108 343.5 98 346.8 86 349.4 69 351.8 58 352.6Z"/>
<path fill="#d2d2d2" d="M37 348.6 37 238 168.2 238 167.2 258 166.2 267 163.9 278 160.6 288 155 299 148.9 308 140.6 318 131.2 327 124 332.5 116 337.3 108 340.7 99 343.3 86 345.7 69 347.6Z"/>
<path fill="#d4d4d4" d="M37 344.1 37 238 164.2 238 163.5 258 162.6 267 160.5 278 157.4 288 152.6 298 146.2 308 138 317.9 130 325.5 122.5 331 115 335.1 107 338.1 98 340.3 85 342.4 70 343.8 59 344.2Z"/>
<path fill="#d6d6d6" d="M37 238 160.3 238 159.8 259 158.3 272 155.1 285 150 297 142 309.5 132.7 320 128 324.2 123 327.8 117.5 331 112 333.4 105 335.6 97 337.3 77 339.9 62 340.4 37 339.5Z"/>
<path fill="#d8d8d8" d="M37 238 156.1 238 156.1 259 154.6 273 153 280 150.8 287 145 299.5 137.2 311 128.7 320 124 323.7 119 326.9 109.3 331 102 333 93 334.7 75 336.7 61 336.6 42 334.7 37 334.6Z"/>
<path fill="#dadada" d="M37 238 151.7 238 152.3 258 150.9 272 149.1 280 146.8 287 143.8 294 140 300.9 132 311.8 124 319.3 120 322.1 114.6 325 103.2 329 88 332.1 72 333.3 60 332.6 42 329.5 37 329.3Z"/>
<path fill="#dcdcdc" d="M37 238 146.4 238 146.4 242 147.9 256 147 269.1 145.4 277 143.2 284 140.3 291 137.1 297 130 307 125.4 312 121 315.7 116.1 319 111 321.6 98 326.2 84 328.9 76 329.4 70 329.3 59.1 328 52 326.4 42 323.2 37 323Z"/>
<path fill="#dedede" d="M37 238 138.9 238 138.9 242 141 248.6 142.1 255 142.1 266 141 273 139.4 279 137.1 285 134.2 291 127 301.6 121.9 307 117.3 311 111.6 315 106.1 318 99.1 321 92 323.1 85 324.4 78 325 66 324.2 54.5 321 42 314.7 37 314.3Z"/>
<path fill="#3c3c3c" d="M59 428.4 67 420.4 77.7 411.5 90.6 399.7 103.4 388 116.2 377.3 129 365.5 135 360.2 140 354.8 150.6 345.2 161.3 335.5 170.9 327 178.4 321.5 189.1 311.9 199.8 302.2 210.5 292.6 220.1 284.1 228.1 276.1 280.1 284.1 280.1 480.4 59 480.4Z"/>
<clipPath id="cpblue"><path d="M66.5 428.4 74.5 420.4 86.3 410.4 99.1 398.6 111.9 388 124.7 376.2 129.3 371.9 140 362.3 150.6 353.8 161.3 344.2 172 335.6 182.7 326 189.1 321.5 199.8 311.9 210.5 303.3 220.1 293.7 228.1 285.7 280.1 293.7 280.1 480.4 66.5 480.4Z"/></clipPath>
<g clip-path="url(#cpblue)"><rect x="37" y="238" width="188" height="187" fill="#070707"/>
<path fill="#090909" d="M37 238 225 238 225 411 210.2 425 37 425Z"/>
<path fill="#0b0b0b" d="M37 238 225 238 225 402.2 216 411.1 198.6 425 37 425Z"/>
<path fill="#0d0d0d" d="M37 238 225 238 225 394.6 219.5 402 215.4 406 211 409.4 194 419 186.1 425 37 425Z"/>
<path fill="#0f0f0f" d="M37 238 225 238 225 385.9 221.4 394 217 400.2 212 404.8 206 408.5 199 411.3 187 414.8 183 416.6 178.2 420 172.8 425 37 425Z"/>
<path fill="#111111" d="M37 238 225 238 225 361.2 223.6 366 223 379 221.8 386 219.1 393 214.8 399 211.6 402 208 404.5 201 407.5 194 408.9 180 409.5 175 411 169.1 415 158.8 425 37 425Z"/>
<path fill="#131313" d="M37 238 225 238 225 343.9 218.7 351 216.4 356 216.5 361 219.8 375 220 382 219.4 386 217.7 391 215.4 395 213 398 210 400.7 206 403.2 202 404.8 197 405.9 193 406.1 188 405.7 173 402.1 168 402.9 165 404.5 161 407.8 143.6 425 37 425Z"/>
<path fill="#151515" d="M37 238 225 238 225 326.9 208.3 344 205.5 348 204.5 351 204.6 353 205.9 356 212 364 215 369 216.6 373 217.6 377 217.8 383 216.8 388 214.6 393 212 396.5 208 400 203 402.5 198 403.7 192 403.7 187 402.6 182 400.5 168 390.8 166 390.3 163 390.9 159.4 393 155 396.7 126.5 425 37 425Z"/>
<path fill="#171717" d="M37 238 225 238 225 306.5 189.7 342 183.2 350 181.3 353 180.2 356 180.3 357 182 357.8 193 358.2 200 359.9 206 363.1 211 367.8 214.6 374 215.7 378 216 382 215.6 386 214.7 389 213.3 392 211 395.2 208 398 205 399.9 202 401.1 198 401.9 194 402 190 401.2 186.7 400 183.2 398 177.9 393 174.4 387 172.2 379 171.9 368 171 366.2 170 366.1 167 367.2 164 369.1 155 376.5 106 425 37 425Z"/>
<path fill="#191919" d="M188 364.4 191 363.5 195 363.1 199 363.5 202 364.4 205 365.9 208 368.1 210.6 371 212.5 374 213.6 377 214.3 381 214.2 385 213.5 388 212.2 391 210 394.1 207 396.9 204 398.7 201 399.8 197 400.4 193 400.1 190 399.3 186 397.3 183.1 395 180.5 392 178.8 389 177.5 385 177.1 382 177.3 378 178.4 374 180 371 182.5 368 185 366Z"/>
<path fill="#1b1b1b" d="M193 366.2 199 366.1 202 367 205 368.5 208 370.9 209.8 373 211.5 376 212.4 379 212.7 385 211.9 388 210.5 391 208.2 394 206 395.9 203 397.5 200 398.5 194 398.6 191 397.8 188 396.4 185 394.1 183.2 392 181.4 389 180.4 386 179.9 382 180.2 379 181.1 376 182.6 373 187 368.6 190 367Z"/>
<path fill="#1d1d1d" d="M191 369.2 196 368.1 199 368.3 202 369.1 205 370.7 207 372.4 210.1 377 211.3 382 211.2 385 210.4 388 209 390.8 207.2 393 203 396 198 397.3 195 397.2 192 396.5 187 393.6 183.6 389 182.5 386 182.1 383 182.3 380 183.2 377 184.9 374 186.7 372Z"/>
<path fill="#1f1f1f" d="M192 371 197 370 202 371.1 206 373.8 208.9 378 209.9 383 208.9 388 206.3 392 202 394.9 197 395.9 192 394.9 187.8 392 185.1 388 184.1 383 185 378 188 373.6Z"/>
<path fill="#212121" d="M195 372.1 200 372.2 203.7 374 206.6 377 208.3 381 208.1 386 206.2 390 203 392.9 199 394.3 195 394.3 191 392.6 187.5 389 186 385 186.1 381 187.7 377 191 373.7Z"/>
<path fill="#232323" d="M195 373.9 199 373.8 202.2 375 205 377.5 206.7 381 206.8 385 205.8 388 203.2 391 200 392.6 196 392.9 193 391.9 190 389.6 188 386 187.7 382 189 378.4 192 375.2Z"/>
<path fill="#252525" d="M195 375.9 198 375.5 201 376.4 203.2 378 205 381 205.3 384 204.5 387 203 389.1 200 390.9 197 391.3 194 390.6 191.8 389 189.9 386 189.5 383 190.3 380 192 377.7Z"/>
<path fill="#272727" d="M195 378.1 197 377.6 199.7 378 201.4 379 202.9 381 203.4 383 203 385.8 202 387.4 200 388.9 198 389.4 195.3 389 193.6 388 192.1 386 191.6 384 192 381.4 193 379.7Z"/>
<path fill="#292929" d="M195.7 381 198 380.4 200 381.5 200.8 384 199.7 386 197 386.7 195 385.4 194.5 383Z"/></g>
</g>
<circle cx="75.5" cy="257.5" r="70" fill="none" stroke="#ff5a14" stroke-width="1" opacity="0.9"/>
<path d="M176.9 242.4C176.8 244.9 176.9 252.4 176.3 257.4C175.7 262.4 174.7 267.0 173.1 272.3C171.5 277.6 169.4 284.0 166.7 289.4C164.0 294.8 160.5 299.8 157.1 304.4C153.7 309.0 150.0 313.3 146.4 317.2C142.8 321.1 138.9 324.9 135.7 327.9C132.4 330.9 130.2 332.6 126.9 335.0C123.7 337.4 120.5 339.9 116.2 342.3C111.9 344.7 106.2 347.5 101.2 349.5C96.2 351.5 91.3 353.1 86.3 354.4C81.3 355.7 76.3 356.6 71.3 357.3C66.3 358.0 61.4 358.4 56.4 358.6C51.4 358.9 43.9 358.8 41.4 358.8" fill="none" stroke="#b4b400" stroke-width="0.9" opacity="0.9"/>
<path d="M213.7 242.4C213.0 244.2 211.4 248.8 209.4 253.1C207.4 257.4 204.9 262.8 201.9 268.1C198.9 273.4 195.1 279.4 191.2 285.1C187.3 290.8 182.7 297.0 178.4 302.2C174.1 307.4 169.9 311.8 165.6 316.1C161.3 320.4 156.4 324.6 152.8 327.9C149.2 331.2 147.2 333.2 144.2 336.0C141.2 338.8 137.5 342.2 135.0 344.5C132.5 346.8 132.1 347.0 129.0 349.9C125.9 352.8 120.5 357.9 116.2 361.6C111.9 365.3 107.7 368.9 103.4 372.3C99.1 375.7 94.9 378.9 90.6 381.9C86.3 384.8 82.0 387.6 77.7 390.0C73.4 392.4 69.2 394.6 64.9 396.5C60.6 398.4 56.0 400.0 52.1 401.4C48.2 402.8 43.2 404.1 41.4 404.6" fill="none" stroke="#f09600" stroke-width="0.9" opacity="0.9"/>
<path d="M220.1 260.6C219.2 261.9 217.0 265.1 214.7 268.1C212.4 271.1 209.4 275.0 206.2 278.7C203.0 282.4 199.1 286.8 195.5 290.5C191.9 294.2 188.4 297.6 184.8 301.2C181.2 304.8 177.7 308.5 174.1 311.9C170.5 315.3 167.1 318.3 163.5 321.5C159.9 324.7 155.5 328.7 152.8 331.1C150.1 333.5 150.4 333.3 147.4 336.0C144.4 338.7 138.8 343.7 135.0 347.1C131.2 350.5 128.6 353.1 124.7 356.6C120.9 360.2 116.2 364.5 111.9 368.4C107.6 372.3 103.4 376.4 99.1 380.1C94.8 383.9 90.6 387.3 86.3 390.9C82.0 394.5 77.4 398.4 73.5 401.6C69.6 404.8 66.4 407.4 62.8 410.1C59.2 412.8 55.3 415.9 52.1 417.6C48.9 419.3 44.9 419.9 43.5 420.4" fill="none" stroke="#d26428" stroke-width="0.9" opacity="0.9"/>
<path d="M74.5 420.4C76.5 418.7 82.2 414.0 86.3 410.4C90.4 406.8 94.8 402.3 99.1 398.6C103.4 394.9 107.6 391.7 111.9 388.0C116.2 384.3 121.8 378.9 124.7 376.2C127.6 373.5 126.8 374.2 129.3 371.9C131.9 369.6 136.4 365.3 140.0 362.3C143.6 359.3 147.0 356.8 150.6 353.8C154.2 350.8 157.7 347.2 161.3 344.2C164.9 341.2 168.4 338.6 172.0 335.6C175.6 332.6 179.8 328.4 182.7 326.0C185.5 323.6 186.2 323.9 189.1 321.5C191.9 319.1 196.2 314.9 199.8 311.9C203.4 308.9 207.1 306.3 210.5 303.3C213.9 300.3 218.5 295.3 220.1 293.7" fill="none" stroke="#8c3c5a" stroke-width="0.8" opacity="0.85"/>
<circle cx="194.4" cy="378.4" r="24" fill="none" stroke="#96285a" stroke-width="0.8" opacity="0.85"/>
</g>
<rect x="41.4" y="242.4" width="178.7" height="178" fill="none" stroke="#3a3a2a" stroke-width="0.6" opacity="0.7"/>
<rect x="227" y="242.4" width="18.2" height="178" fill="url(#cb)" stroke="#3a3a2a" stroke-width="0.5" stroke-opacity="0.6"/>
<path d="M41.4 420.4v2.2" stroke="#333" stroke-width="0.7"/>
<text x="44.3" y="431.6" font-size="10" text-anchor="middle">14.0</text>
<path d="M71.2 420.4v2.2" stroke="#333" stroke-width="0.7"/>
<text x="71.2" y="431.6" font-size="10" text-anchor="middle">14.5</text>
<path d="M101 420.4v2.2" stroke="#333" stroke-width="0.7"/>
<text x="101" y="431.6" font-size="10" text-anchor="middle">15.0</text>
<path d="M130.7 420.4v2.2" stroke="#333" stroke-width="0.7"/>
<text x="130.7" y="431.6" font-size="10" text-anchor="middle">15.5</text>
<path d="M160.5 420.4v2.2" stroke="#333" stroke-width="0.7"/>
<text x="160.5" y="431.6" font-size="10" text-anchor="middle">16.0</text>
<path d="M190.3 420.4v2.2" stroke="#333" stroke-width="0.7"/>
<text x="190.3" y="431.6" font-size="10" text-anchor="middle">16.5</text>
<path d="M220.1 420.4v2.2" stroke="#333" stroke-width="0.7"/>
<text x="217.8" y="431.6" font-size="10" text-anchor="middle">17.0</text>
<path d="M41.4 242.4h-2.2" stroke="#333" stroke-width="0.7"/>
<text x="37.1" y="245.6" font-size="10" text-anchor="end">22</text>
<path d="M41.4 278h-2.2" stroke="#333" stroke-width="0.7"/>
<text x="37.1" y="281.2" font-size="10" text-anchor="end">21</text>
<path d="M41.4 313.6h-2.2" stroke="#333" stroke-width="0.7"/>
<text x="37.1" y="316.8" font-size="10" text-anchor="end">20</text>
<path d="M41.4 349.2h-2.2" stroke="#333" stroke-width="0.7"/>
<text x="37.1" y="352.4" font-size="10" text-anchor="end">19</text>
<path d="M41.4 384.8h-2.2" stroke="#333" stroke-width="0.7"/>
<text x="37.1" y="388" font-size="10" text-anchor="end">18</text>
<path d="M41.4 420.4h-2.2" stroke="#333" stroke-width="0.7"/>
<text x="37.1" y="423.6" font-size="10" text-anchor="end">17</text>
<text x="249.5" y="246.7" font-size="10">1.500</text>
<text x="248.8" y="424.4" font-size="10">1.000</text>
<text x="131.3" y="445.1" font-size="10.5" text-anchor="middle">Vopen_(V)</text>
<text x="125.5" y="462.4" font-size="12.5" text-anchor="middle">(c)</text>
<text transform="translate(16.1 332.7) rotate(-90)" font-size="10.3" text-anchor="middle">Pmax-(W)</text>
<text transform="translate(256.8 327.1) rotate(-90)" font-size="10.3" text-anchor="middle" word-spacing="2.6">Ishort (A)</text>
<g clip-path="url(#cpd)"><g filter="url(#cm)">
<rect x="304" y="236" width="188" height="186" fill="#363636"/>
<path fill="#393939" d="M304 236 492 236 492 381.4 485 381.4 481.3 382 477 383.7 473.4 386 469 390.2 465.6 395 463 401 462.5 405 462.9 408 464 410.3 466 412.1 469 412.9 474 412 481 408.1 484 407 492 407.3 492 422 304 422Z"/>
<path fill="#3b3b3b" d="M304 236 492 236 492 377.7 484 378.1 480 379.1 476 380.8 470 385.1 463.9 392 460.1 400 459 407 460.1 413 461.9 416 463.8 418 463.8 422 304 422Z"/>
<path fill="#3d3d3d" d="M304 236 492 236 492 375.2 487 375.3 483 376 475 379 469.3 383 462.8 390 458.9 397 456.8 405 456.9 411 457.8 415 459.1 418 459.1 422 304 422Z"/>
<path fill="#3f3f3f" d="M304 236 492 236 492 373.3 487 373.3 479.9 375 475 377.1 469 381 461.4 389 457.1 397 455.2 404 454.9 410 456.5 418 456.5 422 304 422Z"/>
<path fill="#414141" d="M304 236 492 236 492 371.6 487 371.7 479 373.7 474 375.9 467 380.8 460.3 388 456 395.8 453.9 403 453.4 410 454.5 418 454.5 422 304 422Z"/>
<path fill="#434343" d="M304 236 492 236 492 370 487 370.1 478 372.6 473 374.9 466 379.9 459.3 387 454.8 395 452.5 403 451.9 409 452.7 422 304 422Z"/>
<path fill="#454545" d="M304 236 492 236 492 368.4 487 368.5 478 371.1 473 373.4 466 378.1 458.4 386 453.7 394 451.3 402 450.5 409 451.1 422 304 422Z"/>
<path fill="#474747" d="M304 236 492 236 492 366.8 487 366.9 478 369.6 472 372.3 465 377.1 457.4 385 452.7 393 450 401 449 409 449.3 422 304 422Z"/>
<path fill="#494949" d="M304 236 492 236 492 365.1 487 365.2 477 368.5 471 371.3 464 376.1 456.4 384 451.5 392 448.8 400 447.6 408 447.5 422 304 422Z"/>
<path fill="#4b4b4b" d="M304 236 492 236 492 363.4 487 363.5 477 366.9 471 369.6 463 375 455.3 383 450.4 391 447.3 400 446 409 445.7 422 304 422Z"/>
<path fill="#4d4d4d" d="M304 236 492 236 492 361.6 487 361.8 476 365.7 470 368.5 461.9 374 454.1 382 449.2 390 446 399 444.4 408 443.9 422 304 422Z"/>
<path fill="#4f4f4f" d="M304 236 492 236 492 359.8 487 360 470 366.8 461 372.7 453.8 380 448.5 388 444.6 398 442.8 408 442 422 304 422Z"/>
<path fill="#515151" d="M304 236 492 236 492 358 487 358.1 469 365.6 460 371.5 452.6 379 447.3 387 443.3 397 441.1 408 440 422 304 422Z"/>
<path fill="#535353" d="M304 236 492 236 492 356.2 487 356.3 468 364.3 459 370.3 451.3 378 446 386.1 441.9 396 439.5 407 438.1 418 438.1 422 304 422Z"/>
<path fill="#555555" d="M304 236 492 236 492 354.3 487 354.4 467 363.1 458 369.1 450.1 377 444.2 386 440.2 396 437.6 408 436.2 418 436.2 422 304 422Z"/>
<path fill="#575757" d="M304 236 492 236 492 352.4 487 352.5 467 361.2 458 367 453.4 371 449.7 375 443.5 384 438.8 395 435.8 408 434.2 418 434.2 422 304 422Z"/>
<path fill="#595959" d="M304 236 492 236 492 350.1 487 350.3 465 360.2 456 366.2 448.2 374 445.1 378 441.5 384 437.1 394 435.4 400 432 418 432 422 304 422Z"/>
<path fill="#5b5b5b" d="M304 236 492 236 492 345.7 487 345.9 464 356.5 454 363.2 446.2 371 439.2 381 433.7 393 429.8 407 427.5 418 427.5 422 304 422Z"/>
<path fill="#5d5d5d" d="M304 236 492 236 492 341.1 487 341.2 463 352.8 453 359.5 445 367.3 437 378.4 430.7 391 425.9 406 423 418 423 422 304 422Z"/>
<path fill="#5f5f5f" d="M304 236 492 236 492 336 487 336.2 463 348.4 452 355.8 443.7 364 434.3 377 427 391 423.9 399 418.4 418 418.4 422 304 422Z"/>
<path fill="#616161" d="M304 236 492 236 492 329.9 487 330.1 481 334.2 462 344.4 451 352.2 443 360.3 432.2 375 423.8 390 419.2 401 413.5 418 413.5 422 304 422Z"/>
<path fill="#636363" d="M304 236 492 236 492 322.3 487 322.5 479 329.1 459 341.6 450 348.6 443 355.8 438 362.1 429.7 374 420.2 390 416.4 398 408.2 418 408.2 422 304 422Z"/>
<path fill="#656565" d="M304 236 492 236 492 314.1 487 314.3 476.5 324 453 341.2 448 345.7 443 351.1 427.3 373 416.4 390 402.5 418 402.5 422 304 422Z"/>
<path fill="#676767" d="M492 236 492 306.8 487 306.9 474 319.5 458 332 451 338 444 345 438 352.9 412 390.9 402.7 409 396.9 418 396.9 422 304 422 304 236Z"/>
<path fill="#696969" d="M492 236 492 304.8 487 304.9 473.4 318 451 336.5 442.8 345 412 389 402.3 407 395.5 418 395.5 422 304 422 304 236Z"/>
<path fill="#6b6b6b" d="M492 236 492 303 487 303.1 472 317.5 451 335.1 442.3 344 428 365 410.8 389 401.6 406 394 418 394 422 304 422 304 236Z"/>
<path fill="#6d6d6d" d="M492 236 492 301.2 487 301.3 471 316.6 451 333.6 442 342.9 427 365.1 409.6 389 400.8 405 392.5 418 392.5 422 304 422 304 236Z"/>
<path fill="#6f6f6f" d="M492 236 492 299.4 487 299.5 470 315.9 450 333 441.4 342 426 365.1 409.1 388 400 404.2 391.1 418 391.1 422 304 422 304 236Z"/>
<path fill="#717171" d="M492 236 492 297.7 487 297.8 469.1 315 450 331.5 440.9 341 437.2 346 425 364.9 407.8 388 398.8 404 389.8 418 389.8 422 304 422 304 236Z"/>
<path fill="#737373" d="M492 236 492 296 487 296.1 468.4 314 450 330 440.3 340 436.6 345 425 363.3 407 387.3 398 403.2 388.4 418 388.4 422 304 422 304 236Z"/>
<path fill="#757575" d="M492 236 492 294.4 487 294.4 467.8 313 449 329.4 439.7 339 436 344 424 363.1 405.9 387 397 402.7 387 418 387 422 304 422 304 236Z"/>
<path fill="#777777" d="M492 236 492 292.7 487 292.7 467 312.1 448 328.8 439 338.1 435 343.6 423 362.7 405 386.3 396.1 402 385.7 418 385.7 422 304 422 304 236Z"/>
<path fill="#797979" d="M492 236 492 291 487 291 466 311.4 447.2 328 437.7 338 434 343 422.2 362 408.1 380 403.8 386 395 401.6 384.4 418 384.4 422 304 422 304 236Z"/>
<path fill="#7b7b7b" d="M492 236 492 289.3 487 289.3 465 310.8 446.6 327 437 337 433 342.5 421.5 361 403.1 385 394.1 401 383.1 418 383.1 422 304 422 304 236Z"/>
<path fill="#7d7d7d" d="M492 236 492 287.7 487 287.6 464.1 310 446 326 435.6 337 432 342 420.9 360 402 384.7 393.4 400 381.7 418 381.7 422 304 422 304 236Z"/>
<path fill="#7f7f7f" d="M492 236 492 286.1 487 285.9 463.5 309 445 325.4 434.9 336 431.3 341 420 359.2 401.1 384 392.1 400 380.4 418 380.4 422 304 422 304 236Z"/>
<path fill="#808080" d="M492 236 492 284.5 487 284.3 462.9 308 444 324.8 434 335.3 430 340.8 419 358.7 400 383.7 391.4 399 379.1 418 379.1 422 304 422 304 236Z"/>
<path fill="#828282" d="M492 236 492 282.9 488 282.5 487 282.7 462 307.3 443 324.2 432.8 335 429.2 340 418.1 358 399.2 383 390.1 399 377.8 418 377.8 422 304 422 304 236Z"/>
<path fill="#848484" d="M492 236 492 281.4 487 281.2 461 306.7 442 323.7 432 334.2 428 339.8 417.4 357 398 382.9 389.4 398 376.5 418 376.5 422 304 422 304 236Z"/>
<path fill="#868686" d="M492 236 492 280 487 279.7 484.3 282 460.1 306 441 323.2 430.8 334 427.2 339 416.1 357 397 382.6 388.2 398 375.3 418 375.3 422 304 422 304 236Z"/>
<path fill="#888888" d="M492 236 492 278.6 487 278.3 483.8 281 459 305.6 439.8 323 430 333.3 425.9 339 415.5 356 396.2 382 387.6 397 374.1 418 374.1 422 304 422 304 236Z"/>
<path fill="#8a8a8a" d="M492 236 492 277.3 487 277 483 280.3 458.1 305 438.4 323 428.9 333 425 338.5 414.3 356 395.1 382 386.4 397 372.9 418 372.9 422 304 422 304 236Z"/>
<path fill="#8c8c8c" d="M492 236 492 276.1 487 275.7 482 279.8 457.8 304 437 323 428 332.5 424 338.1 413.1 356 394.1 382 385.9 396 371.7 418 371.7 422 304 422 304 236Z"/>
<path fill="#8e8e8e" d="M492 236 492 274.8 487 274.4 482 278.4 469 291 457 303.4 436 322.7 427.1 332 423 337.8 411.3 357 394.4 380 384.8 396 374.1 412 370.5 418 370.5 422 304 422 304 236Z"/>
<path fill="#909090" d="M492 236 492 273.6 487 273.1 481 278 468.5 290 456 303 436.5 321 426.7 331 422.4 337 409.5 358 393.4 380 384 395.5 373 412 369.4 418 369.4 422 304 422 304 236Z"/>
<path fill="#929292" d="M492 236 492 272.4 487 271.8 480.6 277 468 289.1 455.8 302 435.3 321 425.5 331 421 337.4 409.8 356 393.1 379 383.3 395 371.9 412 368.3 418 368.3 422 304 422 304 236Z"/>
<path fill="#949494" d="M492 236 492 271.1 487 270.5 480 276.2 467 288.7 455 301.4 434 321 425 330.2 420.1 337 408.8 356 392.9 378 382.2 395 370.8 412 367.2 418 367.2 422 304 422 304 236Z"/>
<path fill="#969696" d="M492 236 492 269.8 487 269.1 479 275.7 466.2 288 454.1 301 424.8 329 419.6 336 407.2 357 392.6 377 381.2 395 369.6 412 366.1 418 366.1 422 304 422 304 236Z"/>
<path fill="#989898" d="M492 236 492 267.9 487 267 478 274.6 465 287.1 453.2 300 427 324.9 423 329.2 418 336.1 405.8 357 390.8 378 367.5 413 364.5 418 364.5 422 304 422 304 236Z"/>
<path fill="#9a9a9a" d="M492 236 492 265.7 487 264.5 477 273.1 463.6 286 450.2 301 426 324 421.3 329 416.4 336 403.7 358 390 377.1 365.8 413 362.8 418 362.8 422 304 422 304 236Z"/>
<path fill="#9c9c9c" d="M492 236 492 263.2 487 261.4 462.9 284 449.1 300 420.3 328 415 335.6 402.3 358 388.1 378 363.5 414 361.1 418 361.1 422 304 422 304 236Z"/>
<path fill="#9e9e9e" d="M492 236 492 260.3 487 257.1 480.8 264 461 282.9 450 296.8 444.2 303 423.1 323 419 327.4 413.7 335 405.2 351 400.3 359 361.8 414 359.4 418 359.4 422 304 422 304 236ZM486 248.6 487 248.6 487.4 248 486 248Z"/>
<path fill="#a0a0a0" d="M492 236 492 243 487 247.9 486 247.9 482 251.9 481 251.9 478 255 478 255.7 480 255.3 481 255.9 481.1 257 478.2 262 459 280.9 452.3 291 443.1 302 434.3 311 421.2 323 416 329 412.2 335 404.4 350 399 359 357.7 418 357.7 422 304 422 304 236ZM492 244.1 492 256.6 490 254 489.5 251 490.1 248Z"/>
<path fill="#a2a2a2" d="M492 236 492 242.9 487 247.7 486 247.8 482 251.8 481 251.8 476 256.9 475 256.9 466 265.9 465 265.9 452 279 452 279.6 453.2 280 453.9 281 453.8 283 452.2 287 447.7 294 436.4 307 420.2 322 415 328 411 334.2 403.1 350 397.7 359 364 406 356 418 356 422 304 422 304 236Z"/>
<path fill="#a4a4a4" d="M492 236 492 242.7 487 247.6 486 247.6 482 251.7 481 251.7 476 256.8 475 256.8 466 265.8 465 265.8 448 283 447.6 284 448.5 286 447.7 289 445.8 293 442.2 298 434.5 307 419 321.3 414 327 409.6 334 402.3 349 397.7 357 358.2 412 354.4 418 354.4 422 304 422 304 236Z"/>
<path fill="#a6a6a6" d="M492 236 492 242.6 487 247.5 486 247.5 482 251.6 481 251.6 476 256.7 475 256.7 466 265.7 465 265.7 443.2 288 443.5 289 443.4 291 442.1 294 436 303 431 308.5 417.3 321 413 326 408.6 333 401 349 396.5 357 390 366.4 356.6 412 352.7 418 352.7 422 304 422 304 236Z"/>
<path fill="#a8a8a8" d="M492 236 492 242.5 487 247.4 486 247.4 482 251.5 481 251.5 476 256.5 475 256.5 466 265.6 465 265.6 439.9 291 439.9 292 438.5 294 436.4 299 432.2 305 422.1 315 416.3 320 412 325 407 333 400.2 348 395.2 357 388 367.5 355 412 351.1 418 351.1 422 304 422 304 236Z"/>
<path fill="#aaaaaa" d="M492 236 492 242.4 487 247.3 486 247.3 482 251.4 481 251.4 476 256.4 475 256.4 466 265.4 465 265.5 439.8 291 439.7 292 434 298 432.2 302 429.1 306 421.1 314 415.3 319 411 323.9 406 332 398.9 348 394 357 386.3 368 353.4 412 349.5 418 349.5 422 304 422 304 236Z"/>
<path fill="#acacac" d="M492 236 492 242.3 487 247.1 486 247.2 482 251.2 481 251.3 476 256.3 475 256.3 466 265.3 465 265.3 439.6 291 439.5 292 429 303 428.9 304 420.1 313 414.3 318 410 322.9 404.9 331 397.6 348 392.7 357 385 368.1 351.8 412 347.8 418 347.8 422 304 422 304 236Z"/>
<path fill="#aeaeae" d="M492 236 492 242.2 487 247 486 247.1 482 251.1 481 251.2 476 256.2 475 256.2 466 265.2 465 265.2 439.4 291 439.4 292 428.6 303 428 304.5 423 309.1 415.3 315 409.6 321 403.9 330 396.3 348 391.4 357 384 367.7 350.8 411 346.2 418 346.2 422 304 422 304 236Z"/>
<path fill="#b0b0b0" d="M492 236 492 242 490 243.8 488 243.8 487 244.2 482 251 481 251 476 256.1 475 256.1 466 265.1 465 265.1 439.2 291 439.2 292 428.2 303 428 304.1 416.5 312 408.6 320 405.1 325 402.3 330 395.5 347 390.2 357 383 367.3 349.3 411 344.6 418 344.6 422 304 422 304 236Z"/>
<path fill="#b2b2b2" d="M486.8 236 486.8 240 486.4 241 482 247.6 476.4 254 439 291 430.6 300 427 303 416 310.4 411 315 407 319.6 401 329.4 394.6 346 389.5 356 382 366.8 347.7 411 343 418 343 422 304 422 304 236Z"/>
<path fill="#b4b4b4" d="M483.9 236 483.9 240 480 245.9 475 251.6 445 281.6 429.7 298 425.1 302 415 309.3 409.9 314 406 318.5 402.9 323 399.6 329 393.3 346 388.1 356 381 366.3 346.8 410 341.5 418 341.5 422 304 422 304 236Z"/>
<path fill="#b6b6b6" d="M476.2 236 476.2 240 472.1 245 440 278.6 425.4 295 409.9 309 402.7 317 396.8 327 390 345.9 385 355.6 377 366.9 343.1 410 337.8 418 337.8 422 304 422 304 236Z"/>
<path fill="#b8b8b8" d="M466.4 236 466.4 240 465.9 241 421.1 291 403.5 308 397.6 315 392.5 324 385.5 344 380.5 354 372.8 365 337.7 410 332.5 418 332.5 422 304 422 304 236Z"/>
<path fill="#bababa" d="M458.4 236 458.4 240 457.9 241 447.2 254 417.1 288 398.2 306 393 312.1 388.5 320 380.6 342 375.1 353 367.5 364 331.6 411 326.9 418 326.9 422 304 422 304 236Z"/>
<path fill="#bcbcbc" d="M451.4 236 451.4 240 450.9 241 438.1 257 413 285.6 406 292.4 393.8 303 388 309.5 384 316.8 375.8 339 369.8 351 364 359.8 350 379 324.5 413 321.1 418 321.1 422 304 422 304 236Z"/>
<path fill="#bebebe" d="M444.9 236 444.9 240 442.3 244 415 276.8 405.2 287 389 300.3 382.9 307 379.2 314 371.4 335 364.9 348 342.4 381 324 405 314.8 418 314.8 422 304 422 304 236Z"/>
<path fill="#c0c0c0" d="M438.6 236 438.6 240 437.5 242 429.8 252 410.6 275 401 284.8 385.3 297 378.5 304 375 310.6 370.2 324 366.3 333 361.2 343 356.3 351 337 379.3 319.4 402 309 416.5 308 417.4 304 417.4 304 236Z"/>
<path fill="#c2c2c2" d="M433.2 236 433.2 240 432.8 241 407.4 273 397.4 283 380.7 296 375.2 302 371.3 309 366.1 323 362.5 331 357.2 341 352.2 349 335 373.6 318.9 394 308 408.9 304 408.9 304 236Z"/>
<path fill="#c4c4c4" d="M427.4 236 427.4 240 427 241 404 270.8 396 279 379 292.6 372.8 299 368 307 362 322 358 330.6 353.3 339 348 347.2 333 367.4 316.3 387 308 398.7 304 398.7 304 236Z"/>
<path fill="#c6c6c6" d="M421.3 236 421.3 240 420.9 241 400.9 268 392 277.3 374.1 292 368 299 364.1 306 357.9 321 353 330.9 347 340.6 339 351.6 328 364.7 313 380.1 308 386.5 304 386.5 304 236Z"/>
<path fill="#c8c8c8" d="M414.9 236 414.9 240 414.4 241 396.9 266 388.5 275 370.7 290 364.6 297 360.6 304 354.2 319 350.2 327 344.6 336 338 345.1 328 356.5 308 375.7 304 375.7 304 236Z"/>
<path fill="#cacaca" d="M408.1 236 408.1 240 397 258 391.9 265 384 273.4 366.9 288 360.8 295 357.3 301 351 315.7 347.3 323 342 331.6 336 339.8 327 349.9 308 367.3 304 367.3 304 236Z"/>
<path fill="#cccccc" d="M401.3 236 401.3 240 392.9 255 387.5 263 379.1 272 362 286.7 356.6 293 353.2 299 344.8 318 339.9 326 333.4 335 324 345.4 308 359.5 304 359.5 304 236Z"/>
<path fill="#cecece" d="M394.6 236 394.2 241 387.9 253 381.9 262 373.4 271 357 285 351.9 291 349.1 296 341 314.6 336 322.7 330 330.9 321 340.9 308 352.2 304 352.2 304 236Z"/>
<path fill="#d0d0d0" d="M388.9 236 388.6 241 382.4 252 377 260 369.8 268 353.6 282 348 288.4 345 293.7 337 311.4 332.3 319 326.5 327 318.8 336 308 346 304 346 304 236Z"/>
<path fill="#d2d2d2" d="M383.3 236 383 241 376.3 252 371.4 259 365 266.3 349.4 280 344.3 286 341.4 291 333 308.3 321.5 325 315.8 332 309 339.1 308 339.8 304 339.8 304 236Z"/>
<path fill="#d4d4d4" d="M377.9 236 377.5 241 365.8 259 359.6 266 347 277.1 342.4 282 339 287.3 333.3 299 329.3 306 313 328 308 333.4 304 333.4 304 236Z"/>
<path fill="#d6d6d6" d="M372.8 236 372.4 241 361.1 259 355.8 265 344 275.4 339.8 280 337 284.1 330.5 297 327 302.8 309 326.1 308 327 304 327 304 236Z"/>
<path fill="#d8d8d8" d="M368.3 236 367.9 241 361.3 253 358 258 352.8 264 341.4 274 337.7 278 335 282 328.9 294 325.2 300 309 320 308 320.9 304 320.9 304 236Z"/>
<path fill="#dadada" d="M364.4 236 364.1 241 358.6 252 355 257.7 350 263.3 340 272 336 276.2 332.7 281 325.6 295 319.5 303 308 315.4 304 315.4 304 236Z"/>
<path fill="#dcdcdc" d="M361.1 236 360.8 241 356.5 251 353 256.6 348.2 262 337.9 271 334 275.2 330.8 280 324.3 293 318.2 301 308 310.9 304 310.9 304 236Z"/>
<path fill="#dedede" d="M358.4 236 358.1 241 354.7 250 351.7 255 347 260.6 336.2 270 332.5 274 329 279.4 323.3 291 317.3 299 308 307.3 304 307.3 304 236Z"/>
<path fill="#e0e0e0" d="M356.2 236 356.2 240 354.4 246 352.2 251 349.6 255 345.2 260 335 268.8 331 273.3 327.3 279 322 290 316.8 297 309 304 308 304.6 304 304.6 304 236Z"/>
<path fill="#e2e2e2" d="M354.2 236 354.1 241 352.6 246 350.9 250 348.3 254 343.9 259 334 267.6 330 272 326.1 278 320.8 289 316 295.5 309 301.7 308 302.3 304 302.3 304 236Z"/>
<path fill="#e4e4e4" d="M352.4 236 352.4 240 351.2 245 349.6 249 347 253 342.7 258 333 266.4 328.9 271 324.8 277 319.6 288 315 294.3 309 299.6 308 300.1 304 300.1 304 236Z"/>
<path fill="#e6e6e6" d="M350.4 236 350.3 241 349.3 245 348 248.3 345.6 252 341 257.3 331.1 266 327 270.8 323.5 276 318 287.5 314 292.9 310.7 296 308 297.9 304 297.9 304 236Z"/>
<path fill="#e8e8e8" d="M348.2 236 348.1 241 347.4 244 346 247.8 343.9 251 339.6 256 330 264.7 325.5 270 321.5 276 316.1 287 313 291.1 308 295.4 304 295.4 304 236Z"/>
<path fill="#eaeaea" d="M345.2 236 345.2 241 344.6 244 343 247.8 341 250.9 337.4 255 329 263 323.1 270 319.7 275 314 286 311 289.9 308 292.4 304 292.4 304 236Z"/>
<path fill="#ececec" d="M341 236 340.5 244 339.4 247 337.7 250 320.2 270 316.8 275 311.8 284 309 287.8 308 288.5 304 288.5 304 236Z"/>
<path fill="#eeeeee" d="M334.1 236 334.2 245 333.4 248 331.9 251 323.6 262 315.2 272 308 282.3 304 282.3 304 236Z"/>
<path fill="#f0f0f0" d="M325.5 236 325.5 240 326.6 245 326.6 248 325.5 252 323.5 256 320.3 261 308 274.8 304 274.8 304 236Z"/>
<path fill="#f2f2f2" d="M304 244.3 308 244.3 314.7 250 316.1 253 315.9 256 314.7 259 312 263 308 267.5 304 267.5Z"/>
</g>
<path d="M357.1 240.4C356.6 242.2 356.2 247.5 354.3 251.1C352.4 254.7 348.9 258.6 345.7 261.8C342.5 265.0 337.9 267.5 335.0 270.3C332.1 273.1 330.4 275.7 328.6 278.9C326.8 282.1 326.2 286.4 324.4 289.6C322.6 292.8 320.7 295.3 318.0 298.1C315.3 300.9 309.9 305.2 308.3 306.6" fill="none" stroke="#ffa040" stroke-width="0.8" opacity="0.7"/>
<path d="M394.9 240.4C394.2 242.2 392.7 247.2 390.6 251.1C388.5 255.0 385.3 260.0 382.1 263.9C378.9 267.8 375.0 271.4 371.4 274.6C367.8 277.8 363.9 280.2 360.7 283.1C357.5 286.0 354.2 288.5 352.1 291.7C350.0 294.9 349.3 298.8 347.9 302.4C346.5 306.0 345.4 309.7 343.6 313.1C341.8 316.5 339.7 319.4 337.2 323.0C334.7 326.6 331.8 331.0 328.6 334.7C325.4 338.4 321.4 342.4 318.0 345.4C314.6 348.4 309.9 351.6 308.3 352.8" fill="none" stroke="#ffbe32" stroke-width="0.8" opacity="0.7"/>
<path d="M440.0 240.4C438.6 242.2 434.7 247.2 431.5 251.1C428.3 255.0 424.4 259.6 420.8 263.9C417.2 268.2 413.7 272.8 410.1 276.7C406.5 280.6 401.9 285.1 399.4 287.4C396.9 289.7 397.1 289.1 394.9 290.6C392.7 292.1 389.1 294.2 386.3 296.5C383.5 298.8 379.8 301.7 377.8 304.5C375.9 307.3 375.7 309.9 374.6 313.1C373.5 316.3 372.8 320.1 371.4 323.7C370.0 327.3 367.8 331.1 366.0 334.7C364.2 338.3 363.0 341.5 360.7 345.4C358.4 349.3 355.0 353.9 352.1 358.2C349.2 362.5 346.5 366.7 343.6 371.0C340.8 375.3 337.9 379.9 335.0 383.8C332.1 387.7 329.3 390.9 326.5 394.5C323.7 398.1 320.7 401.6 318.0 405.2C315.3 408.8 311.9 413.8 310.5 415.9C309.1 418.0 309.6 417.6 309.4 418.0" fill="none" stroke="#e6aa00" stroke-width="0.85" opacity="0.9"/>
<path d="M480.6 240.4C479.2 242.0 475.3 246.6 472.1 250.0C468.9 253.4 465.0 257.1 461.4 260.7C457.8 264.3 454.3 267.8 450.7 271.4C447.1 275.0 443.6 278.4 440.0 282.1C436.4 285.8 433.2 289.7 429.3 293.8C425.4 297.9 420.4 302.7 416.5 306.6C412.6 310.5 408.5 314.1 405.8 317.3C403.1 320.5 402.0 323.4 400.5 325.9C399.0 328.3 397.8 329.8 397.0 332.0C396.2 334.2 397.0 335.7 395.9 339.0C394.8 342.3 392.9 347.5 390.6 351.8C388.3 356.1 385.0 360.7 382.1 364.6C379.2 368.5 376.4 371.7 373.5 375.3C370.6 378.9 367.9 382.4 365.0 386.0C362.1 389.6 359.2 393.1 356.4 396.6C353.5 400.2 350.6 403.7 347.9 407.3C345.2 410.9 341.6 416.2 340.4 418.0" fill="none" stroke="#a05a14" stroke-width="0.85" opacity="0.9"/>
<path d="M487.3 277.8C485.8 279.2 481.8 283.1 478.5 286.3C475.2 289.5 471.4 293.6 467.8 297.0C464.2 300.4 460.7 303.6 457.1 306.6C453.5 309.6 450.0 312.2 446.4 315.2C442.8 318.2 438.9 321.7 435.7 324.8C432.5 327.9 430.4 329.5 427.2 334.0C424.0 338.5 419.7 346.9 416.5 351.8C413.3 356.7 410.9 359.8 408.0 363.5C405.1 367.2 401.6 371.4 399.4 374.2C397.2 377.0 397.1 376.8 394.9 380.5C392.7 384.2 389.0 392.1 386.3 396.6C383.6 401.1 381.2 403.7 378.9 407.3C376.6 410.9 373.5 416.2 372.4 418.0" fill="none" stroke="#2ee000" stroke-width="1.1" opacity="1"/>
<path d="M487.3 332.5C485.5 333.4 480.3 335.9 476.3 337.9C472.3 339.9 467.8 341.8 463.5 344.3C459.2 346.8 454.6 349.6 450.7 352.8C446.8 356.0 443.2 359.8 440.0 363.5C436.8 367.2 434.0 371.2 431.5 375.3C429.0 379.4 427.1 383.8 425.1 388.1C423.1 392.4 421.1 397.0 419.7 400.9C418.3 404.8 417.2 408.8 416.5 411.6C415.8 414.5 415.6 416.9 415.4 418.0" fill="none" stroke="#1e5a14" stroke-width="0.85" opacity="0.9"/>
<path d="M487.3 367.8C485.8 368.1 481.8 368.6 478.5 369.9C475.2 371.1 471.4 372.6 467.8 375.3C464.2 378.0 459.8 382.4 457.1 386.0C454.4 389.6 453.1 393.1 451.8 396.6C450.6 400.2 449.8 403.7 449.6 407.3C449.4 410.9 450.5 416.2 450.7 418.0" fill="none" stroke="#1e503c" stroke-width="0.85" opacity="0.9"/>
</g>
<rect x="308.3" y="240.4" width="179" height="177.6" fill="none" stroke="#3a3a2a" stroke-width="0.6" opacity="0.7"/>
<rect x="493.8" y="240.4" width="18.2" height="177.6" fill="url(#cb)" stroke="#3a3a2a" stroke-width="0.5" stroke-opacity="0.6"/>
<path d="M308.3 418v2.2" stroke="#333" stroke-width="0.7"/>
<text x="311.8" y="429.6" font-size="10" text-anchor="middle">16.0</text>
<path d="M344.1 418v2.2" stroke="#333" stroke-width="0.7"/>
<text x="344.1" y="429.6" font-size="10" text-anchor="middle">16.1</text>
<path d="M379.9 418v2.2" stroke="#333" stroke-width="0.7"/>
<text x="379.9" y="429.6" font-size="10" text-anchor="middle">16.2</text>
<path d="M415.7 418v2.2" stroke="#333" stroke-width="0.7"/>
<text x="415.7" y="429.6" font-size="10" text-anchor="middle">16.3</text>
<path d="M451.5 418v2.2" stroke="#333" stroke-width="0.7"/>
<text x="451.5" y="429.6" font-size="10" text-anchor="middle">16.4</text>
<path d="M487.3 418v2.2" stroke="#333" stroke-width="0.7"/>
<text x="485" y="429.6" font-size="10" text-anchor="middle">16.5</text>
<path d="M308.3 240.4h-2.2" stroke="#333" stroke-width="0.7"/>
<text x="304" y="243.6" font-size="10" text-anchor="end">19.20</text>
<path d="M308.3 284.8h-2.2" stroke="#333" stroke-width="0.7"/>
<text x="304" y="288" font-size="10" text-anchor="end">18.95</text>
<path d="M308.3 329.2h-2.2" stroke="#333" stroke-width="0.7"/>
<text x="304" y="332.4" font-size="10" text-anchor="end">18.70</text>
<path d="M308.3 373.6h-2.2" stroke="#333" stroke-width="0.7"/>
<text x="304" y="376.8" font-size="10" text-anchor="end">18.45</text>
<path d="M308.3 418h-2.2" stroke="#333" stroke-width="0.7"/>
<text x="304" y="421.2" font-size="10" text-anchor="end">18.20</text>
<text x="516.3" y="244.7" font-size="10">1.20000</text>
<text x="515.6" y="422" font-size="10">1.10000</text>
<text x="404.2" y="442" font-size="10.5" text-anchor="middle">Vopen_(V)</text>
<text x="399.3" y="461" font-size="12.5" text-anchor="middle">(d)</text>
<text transform="translate(273.5 325.8) rotate(-90)" font-size="10.3" text-anchor="middle">Pmax-(W)</text>
<text transform="translate(525.3 321.5) rotate(-90)" font-size="10.3" text-anchor="middle" word-spacing="2.6">Ishort (A)</text>
</svg></body></html>
